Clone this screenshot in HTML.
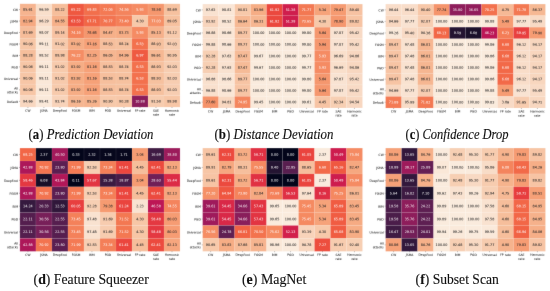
<!DOCTYPE html>
<html lang="en"><head><meta charset="utf-8"><title>Detector heatmaps</title>
<style>
html,body{margin:0;padding:0;background:#fff;}
body{width:550px;height:291px;overflow:hidden;}
svg{display:block}
.hm text{font-family:"DejaVu Sans","Liberation Sans",sans-serif;}
.k{fill:#262626;stroke:#262626;stroke-width:0.05px}.w{fill:#fff;stroke:#fff;stroke-width:0}

.cap{font-family:"Liberation Serif","DejaVu Serif",serif;font-size:13.8px;fill:#111;stroke:#111;stroke-width:.12px;}
</style></head><body>
<svg width="550" height="291" viewBox="0 0 550 291">
<rect width="550" height="291" fill="#ffffff"/>
<defs><filter id="bl" x="-5%" y="-5%" width="110%" height="115%" color-interpolation-filters="sRGB"><feConvolveMatrix order="3" kernelMatrix="0.0052 0.0619 0.0052 0.0619 0.7314 0.0619 0.0052 0.0619 0.0052" edgeMode="duplicate" preserveAlpha="false"/></filter></defs>
<g class="hm" id="pa" filter="url(#bl)">
<rect x="19.90" y="3.80" width="16.06" height="11.53" fill="#f6b48f"/>
<rect x="35.91" y="3.80" width="16.06" height="11.53" fill="#f9dfcb"/>
<rect x="51.92" y="3.80" width="16.06" height="11.53" fill="#f6be9b"/>
<rect x="67.93" y="3.80" width="16.06" height="11.53" fill="#ef5840"/>
<rect x="83.94" y="3.80" width="16.06" height="11.53" fill="#f26f4c"/>
<rect x="99.95" y="3.80" width="16.06" height="11.53" fill="#f47a54"/>
<rect x="115.96" y="3.80" width="16.06" height="11.53" fill="#f4845d"/>
<rect x="131.97" y="3.80" width="16.06" height="11.53" fill="#f58b63"/>
<rect x="147.98" y="3.80" width="16.06" height="11.53" fill="#f5976e"/>
<rect x="163.99" y="3.80" width="16.06" height="11.53" fill="#f6c19f"/>
<rect x="19.90" y="15.28" width="16.06" height="11.53" fill="#f6a981"/>
<rect x="35.91" y="15.28" width="16.06" height="11.53" fill="#f9ddc9"/>
<rect x="51.92" y="15.28" width="16.06" height="11.53" fill="#f6b089"/>
<rect x="67.93" y="15.28" width="16.06" height="11.53" fill="#ed503e"/>
<rect x="83.94" y="15.28" width="16.06" height="11.53" fill="#f16646"/>
<rect x="99.95" y="15.28" width="16.06" height="11.53" fill="#f37450"/>
<rect x="115.96" y="15.28" width="16.06" height="11.53" fill="#f47f58"/>
<rect x="131.97" y="15.28" width="16.06" height="11.53" fill="#f7c9aa"/>
<rect x="147.98" y="15.28" width="16.06" height="11.53" fill="#f59067"/>
<rect x="163.99" y="15.28" width="16.06" height="11.53" fill="#f6c19f"/>
<rect x="19.90" y="26.76" width="16.06" height="11.53" fill="#f6bc99"/>
<rect x="35.91" y="26.76" width="16.06" height="11.53" fill="#f9e5d4"/>
<rect x="51.92" y="26.76" width="16.06" height="11.53" fill="#f7c2a2"/>
<rect x="67.93" y="26.76" width="16.06" height="11.53" fill="#f4835b"/>
<rect x="83.94" y="26.76" width="16.06" height="11.53" fill="#f5976e"/>
<rect x="99.95" y="26.76" width="16.06" height="11.53" fill="#f6b089"/>
<rect x="115.96" y="26.76" width="16.06" height="11.53" fill="#f6ad85"/>
<rect x="131.97" y="26.76" width="16.06" height="11.53" fill="#f58b63"/>
<rect x="147.98" y="26.76" width="16.06" height="11.53" fill="#f6b18b"/>
<rect x="163.99" y="26.76" width="16.06" height="11.53" fill="#f7caac"/>
<rect x="19.90" y="38.23" width="16.06" height="11.53" fill="#f7c6a6"/>
<rect x="35.91" y="38.23" width="16.06" height="11.53" fill="#fae8d8"/>
<rect x="51.92" y="38.23" width="16.06" height="11.53" fill="#f7caac"/>
<rect x="67.93" y="38.23" width="16.06" height="11.53" fill="#f6ad85"/>
<rect x="83.94" y="38.23" width="16.06" height="11.53" fill="#f6a178"/>
<rect x="99.95" y="38.23" width="16.06" height="11.53" fill="#f6bf9d"/>
<rect x="115.96" y="38.23" width="16.06" height="11.53" fill="#f6c19f"/>
<rect x="131.97" y="38.23" width="16.06" height="11.53" fill="#f3714d"/>
<rect x="147.98" y="38.23" width="16.06" height="11.53" fill="#f6c19f"/>
<rect x="163.99" y="38.23" width="16.06" height="11.53" fill="#f7cdb1"/>
<rect x="19.90" y="49.71" width="16.06" height="11.53" fill="#f6be9b"/>
<rect x="35.91" y="49.71" width="16.06" height="11.53" fill="#fae6d6"/>
<rect x="51.92" y="49.71" width="16.06" height="11.53" fill="#f7c6a6"/>
<rect x="67.93" y="49.71" width="16.06" height="11.53" fill="#f58d64"/>
<rect x="83.94" y="49.71" width="16.06" height="11.53" fill="#f6a67e"/>
<rect x="99.95" y="49.71" width="16.06" height="11.53" fill="#f6b691"/>
<rect x="115.96" y="49.71" width="16.06" height="11.53" fill="#f6b18b"/>
<rect x="131.97" y="49.71" width="16.06" height="11.53" fill="#ef5a41"/>
<rect x="147.98" y="49.71" width="16.06" height="11.53" fill="#f6b893"/>
<rect x="163.99" y="49.71" width="16.06" height="11.53" fill="#f7c9aa"/>
<rect x="19.90" y="61.19" width="16.06" height="11.53" fill="#f7c6a6"/>
<rect x="35.91" y="61.19" width="16.06" height="11.53" fill="#fae8d8"/>
<rect x="51.92" y="61.19" width="16.06" height="11.53" fill="#f7caac"/>
<rect x="67.93" y="61.19" width="16.06" height="11.53" fill="#f6ad85"/>
<rect x="83.94" y="61.19" width="16.06" height="11.53" fill="#f6a178"/>
<rect x="99.95" y="61.19" width="16.06" height="11.53" fill="#f6bf9d"/>
<rect x="115.96" y="61.19" width="16.06" height="11.53" fill="#f6c19f"/>
<rect x="131.97" y="61.19" width="16.06" height="11.53" fill="#f3714d"/>
<rect x="147.98" y="61.19" width="16.06" height="11.53" fill="#f6c19f"/>
<rect x="163.99" y="61.19" width="16.06" height="11.53" fill="#f7cdb1"/>
<rect x="19.90" y="72.67" width="16.06" height="11.53" fill="#f7c6a6"/>
<rect x="35.91" y="72.67" width="16.06" height="11.53" fill="#fae8d8"/>
<rect x="51.92" y="72.67" width="16.06" height="11.53" fill="#f7caac"/>
<rect x="67.93" y="72.67" width="16.06" height="11.53" fill="#f6ad85"/>
<rect x="83.94" y="72.67" width="16.06" height="11.53" fill="#f6a178"/>
<rect x="99.95" y="72.67" width="16.06" height="11.53" fill="#f6bf9d"/>
<rect x="115.96" y="72.67" width="16.06" height="11.53" fill="#f6c19f"/>
<rect x="131.97" y="72.67" width="16.06" height="11.53" fill="#f3714d"/>
<rect x="147.98" y="72.67" width="16.06" height="11.53" fill="#f6c19f"/>
<rect x="163.99" y="72.67" width="16.06" height="11.53" fill="#f7cdb1"/>
<rect x="19.90" y="84.14" width="16.06" height="11.53" fill="#f7c6a6"/>
<rect x="35.91" y="84.14" width="16.06" height="11.53" fill="#fae8d8"/>
<rect x="51.92" y="84.14" width="16.06" height="11.53" fill="#f7caac"/>
<rect x="67.93" y="84.14" width="16.06" height="11.53" fill="#f6ad85"/>
<rect x="83.94" y="84.14" width="16.06" height="11.53" fill="#f6a178"/>
<rect x="99.95" y="84.14" width="16.06" height="11.53" fill="#f6bf9d"/>
<rect x="115.96" y="84.14" width="16.06" height="11.53" fill="#f6c19f"/>
<rect x="131.97" y="84.14" width="16.06" height="11.53" fill="#f3714d"/>
<rect x="147.98" y="84.14" width="16.06" height="11.53" fill="#f6c19f"/>
<rect x="163.99" y="84.14" width="16.06" height="11.53" fill="#f7cdb1"/>
<rect x="19.90" y="95.62" width="16.06" height="11.53" fill="#f8d7c0"/>
<rect x="35.91" y="95.62" width="16.06" height="11.53" fill="#fae9da"/>
<rect x="51.92" y="95.62" width="16.06" height="11.53" fill="#f8d3ba"/>
<rect x="67.93" y="95.62" width="16.06" height="11.53" fill="#f6b691"/>
<rect x="83.94" y="95.62" width="16.06" height="11.53" fill="#f6b38d"/>
<rect x="99.95" y="95.62" width="16.06" height="11.53" fill="#f7c9aa"/>
<rect x="115.96" y="95.62" width="16.06" height="11.53" fill="#f7c7a8"/>
<rect x="131.97" y="95.62" width="16.06" height="11.53" fill="#8b1d5b"/>
<rect x="147.98" y="95.62" width="16.06" height="11.53" fill="#f7ccaf"/>
<rect x="163.99" y="95.62" width="16.06" height="11.53" fill="#f7c6a6"/>
<path d="M19.90 3.80V107.10M35.91 3.80V107.10M51.92 3.80V107.10M67.93 3.80V107.10M83.94 3.80V107.10M99.95 3.80V107.10M115.96 3.80V107.10M131.97 3.80V107.10M147.98 3.80V107.10M163.99 3.80V107.10M180.00 3.80V107.10M19.90 3.80H180.00M19.90 15.28H180.00M19.90 26.76H180.00M19.90 38.23H180.00M19.90 49.71H180.00M19.90 61.19H180.00M19.90 72.67H180.00M19.90 84.14H180.00M19.90 95.62H180.00M19.90 107.10H180.00" stroke="#ffffff" stroke-opacity="0.22" stroke-width="0.4" fill="none"/>
<g class="an" font-size="3.38" text-anchor="middle"><text transform="rotate(.3 27.90 10.71)" x="27.90" y="10.71" class="k">85.61</text><text transform="rotate(.3 43.91 10.71)" x="43.91" y="10.71" class="k">96.59</text><text transform="rotate(.3 59.92 10.71)" x="59.92" y="10.71" class="k">88.22</text><text transform="rotate(.3 75.93 10.71)" x="75.93" y="10.71" class="w">65.22</text><text transform="rotate(.3 91.94 10.71)" x="91.94" y="10.71" class="w">69.83</text><text transform="rotate(.3 107.95 10.71)" x="107.95" y="10.71" class="w">72.06</text><text transform="rotate(.3 123.96 10.71)" x="123.96" y="10.71" class="w">74.56</text><text transform="rotate(.3 139.97 10.71)" x="139.97" y="10.71" class="w">5.93</text><text transform="rotate(.3 155.98 10.71)" x="155.98" y="10.71" class="k">78.58</text><text transform="rotate(.3 171.99 10.71)" x="171.99" y="10.71" class="k">88.69</text><text transform="rotate(.3 27.90 22.18)" x="27.90" y="22.18" class="k">82.94</text><text transform="rotate(.3 43.91 22.18)" x="43.91" y="22.18" class="k">96.29</text><text transform="rotate(.3 59.92 22.18)" x="59.92" y="22.18" class="k">84.55</text><text transform="rotate(.3 75.93 22.18)" x="75.93" y="22.18" class="w">63.53</text><text transform="rotate(.3 91.94 22.18)" x="91.94" y="22.18" class="w">67.71</text><text transform="rotate(.3 107.95 22.18)" x="107.95" y="22.18" class="w">70.77</text><text transform="rotate(.3 123.96 22.18)" x="123.96" y="22.18" class="w">73.40</text><text transform="rotate(.3 139.97 22.18)" x="139.97" y="22.18" class="k">4.30</text><text transform="rotate(.3 155.98 22.18)" x="155.98" y="22.18" class="w">77.03</text><text transform="rotate(.3 171.99 22.18)" x="171.99" y="22.18" class="k">89.05</text><text transform="rotate(.3 27.90 33.66)" x="27.90" y="33.66" class="k">87.69</text><text transform="rotate(.3 43.91 33.66)" x="43.91" y="33.66" class="k">98.07</text><text transform="rotate(.3 59.92 33.66)" x="59.92" y="33.66" class="k">89.14</text><text transform="rotate(.3 75.93 33.66)" x="75.93" y="33.66" class="w">74.16</text><text transform="rotate(.3 91.94 33.66)" x="91.94" y="33.66" class="k">78.68</text><text transform="rotate(.3 107.95 33.66)" x="107.95" y="33.66" class="k">84.47</text><text transform="rotate(.3 123.96 33.66)" x="123.96" y="33.66" class="k">83.73</text><text transform="rotate(.3 139.97 33.66)" x="139.97" y="33.66" class="w">5.93</text><text transform="rotate(.3 155.98 33.66)" x="155.98" y="33.66" class="k">85.13</text><text transform="rotate(.3 171.99 33.66)" x="171.99" y="33.66" class="k">91.12</text><text transform="rotate(.3 27.90 45.14)" x="27.90" y="45.14" class="k">90.06</text><text transform="rotate(.3 43.91 45.14)" x="43.91" y="45.14" class="k">99.11</text><text transform="rotate(.3 59.92 45.14)" x="59.92" y="45.14" class="k">91.02</text><text transform="rotate(.3 75.93 45.14)" x="75.93" y="45.14" class="k">83.92</text><text transform="rotate(.3 91.94 45.14)" x="91.94" y="45.14" class="k">81.16</text><text transform="rotate(.3 107.95 45.14)" x="107.95" y="45.14" class="k">88.53</text><text transform="rotate(.3 123.96 45.14)" x="123.96" y="45.14" class="k">88.74</text><text transform="rotate(.3 139.97 45.14)" x="139.97" y="45.14" class="w">6.53</text><text transform="rotate(.3 155.98 45.14)" x="155.98" y="45.14" class="k">88.93</text><text transform="rotate(.3 171.99 45.14)" x="171.99" y="45.14" class="k">92.03</text><text transform="rotate(.3 27.90 56.62)" x="27.90" y="56.62" class="k">88.28</text><text transform="rotate(.3 43.91 56.62)" x="43.91" y="56.62" class="k">98.52</text><text transform="rotate(.3 59.92 56.62)" x="59.92" y="56.62" class="k">89.98</text><text transform="rotate(.3 75.93 56.62)" x="75.93" y="56.62" class="w">76.22</text><text transform="rotate(.3 91.94 56.62)" x="91.94" y="56.62" class="k">82.25</text><text transform="rotate(.3 107.95 56.62)" x="107.95" y="56.62" class="k">86.05</text><text transform="rotate(.3 123.96 56.62)" x="123.96" y="56.62" class="k">84.96</text><text transform="rotate(.3 139.97 56.62)" x="139.97" y="56.62" class="w">6.97</text><text transform="rotate(.3 155.98 56.62)" x="155.98" y="56.62" class="k">86.61</text><text transform="rotate(.3 171.99 56.62)" x="171.99" y="56.62" class="k">90.95</text><text transform="rotate(.3 27.90 68.09)" x="27.90" y="68.09" class="k">90.06</text><text transform="rotate(.3 43.91 68.09)" x="43.91" y="68.09" class="k">99.11</text><text transform="rotate(.3 59.92 68.09)" x="59.92" y="68.09" class="k">91.02</text><text transform="rotate(.3 75.93 68.09)" x="75.93" y="68.09" class="k">83.92</text><text transform="rotate(.3 91.94 68.09)" x="91.94" y="68.09" class="k">81.16</text><text transform="rotate(.3 107.95 68.09)" x="107.95" y="68.09" class="k">88.53</text><text transform="rotate(.3 123.96 68.09)" x="123.96" y="68.09" class="k">88.74</text><text transform="rotate(.3 139.97 68.09)" x="139.97" y="68.09" class="w">6.53</text><text transform="rotate(.3 155.98 68.09)" x="155.98" y="68.09" class="k">88.93</text><text transform="rotate(.3 171.99 68.09)" x="171.99" y="68.09" class="k">92.03</text><text transform="rotate(.3 27.90 79.57)" x="27.90" y="79.57" class="k">90.06</text><text transform="rotate(.3 43.91 79.57)" x="43.91" y="79.57" class="k">99.11</text><text transform="rotate(.3 59.92 79.57)" x="59.92" y="79.57" class="k">91.02</text><text transform="rotate(.3 75.93 79.57)" x="75.93" y="79.57" class="k">83.92</text><text transform="rotate(.3 91.94 79.57)" x="91.94" y="79.57" class="k">81.16</text><text transform="rotate(.3 107.95 79.57)" x="107.95" y="79.57" class="k">88.53</text><text transform="rotate(.3 123.96 79.57)" x="123.96" y="79.57" class="k">88.74</text><text transform="rotate(.3 139.97 79.57)" x="139.97" y="79.57" class="w">6.53</text><text transform="rotate(.3 155.98 79.57)" x="155.98" y="79.57" class="k">88.93</text><text transform="rotate(.3 171.99 79.57)" x="171.99" y="79.57" class="k">92.03</text><text transform="rotate(.3 27.90 91.05)" x="27.90" y="91.05" class="k">90.06</text><text transform="rotate(.3 43.91 91.05)" x="43.91" y="91.05" class="k">99.11</text><text transform="rotate(.3 59.92 91.05)" x="59.92" y="91.05" class="k">91.02</text><text transform="rotate(.3 75.93 91.05)" x="75.93" y="91.05" class="k">83.92</text><text transform="rotate(.3 91.94 91.05)" x="91.94" y="91.05" class="k">81.16</text><text transform="rotate(.3 107.95 91.05)" x="107.95" y="91.05" class="k">88.53</text><text transform="rotate(.3 123.96 91.05)" x="123.96" y="91.05" class="k">88.74</text><text transform="rotate(.3 139.97 91.05)" x="139.97" y="91.05" class="w">6.53</text><text transform="rotate(.3 155.98 91.05)" x="155.98" y="91.05" class="k">88.93</text><text transform="rotate(.3 171.99 91.05)" x="171.99" y="91.05" class="k">92.03</text><text transform="rotate(.3 27.90 102.53)" x="27.90" y="102.53" class="k">94.66</text><text transform="rotate(.3 43.91 102.53)" x="43.91" y="102.53" class="k">99.41</text><text transform="rotate(.3 59.92 102.53)" x="59.92" y="102.53" class="k">93.74</text><text transform="rotate(.3 75.93 102.53)" x="75.93" y="102.53" class="k">86.16</text><text transform="rotate(.3 91.94 102.53)" x="91.94" y="102.53" class="k">85.26</text><text transform="rotate(.3 107.95 102.53)" x="107.95" y="102.53" class="k">90.90</text><text transform="rotate(.3 123.96 102.53)" x="123.96" y="102.53" class="k">90.38</text><text transform="rotate(.3 139.97 102.53)" x="139.97" y="102.53" class="w">10.88</text><text transform="rotate(.3 155.98 102.53)" x="155.98" y="102.53" class="k">91.50</text><text transform="rotate(.3 171.99 102.53)" x="171.99" y="102.53" class="k">89.98</text></g>
<path d="M27.90 107.10v0.9M43.91 107.10v0.9M59.92 107.10v0.9M75.94 107.10v0.9M91.94 107.10v0.9M107.95 107.10v0.9M123.96 107.10v0.9M139.97 107.10v0.9M155.98 107.10v0.9M171.99 107.10v0.9M19.90 9.54h-0.9M19.90 21.02h-0.9M19.90 32.49h-0.9M19.90 43.97h-0.9M19.90 55.45h-0.9M19.90 66.93h-0.9M19.90 78.41h-0.9M19.90 89.88h-0.9M19.90 101.36h-0.9" stroke="#262626" stroke-width="0.35" fill="none"/>
<g class="tk k" font-size="3.02" style="stroke-width:.05px"><text transform="rotate(.3 27.90 111.70)" x="27.90" y="111.70" text-anchor="middle">CW</text><text transform="rotate(.3 43.91 111.70)" x="43.91" y="111.70" text-anchor="middle">JSMA</text><text transform="rotate(.3 59.92 111.70)" x="59.92" y="111.70" text-anchor="middle">DeepFool</text><text transform="rotate(.3 75.94 111.70)" x="75.94" y="111.70" text-anchor="middle">FGSM</text><text transform="rotate(.3 91.94 111.70)" x="91.94" y="111.70" text-anchor="middle">BIM</text><text transform="rotate(.3 107.95 111.70)" x="107.95" y="111.70" text-anchor="middle">PGD</text><text transform="rotate(.3 123.96 111.70)" x="123.96" y="111.70" text-anchor="middle">Universal</text><text transform="rotate(.3 139.97 111.70)" x="139.97" y="111.70" text-anchor="middle">FP rate</text><text transform="rotate(.3 155.98 111.70)" x="155.98" y="111.70" text-anchor="middle">SAE</text><text transform="rotate(.3 155.98 115.77)" x="155.98" y="115.77" text-anchor="middle">rate</text><text transform="rotate(.3 171.99 111.70)" x="171.99" y="111.70" text-anchor="middle">Harmonic</text><text transform="rotate(.3 171.99 115.77)" x="171.99" y="115.77" text-anchor="middle">rate</text><text transform="rotate(.3 18.00 11.13)" x="18.00" y="11.13" text-anchor="end">CW</text><text transform="rotate(.3 18.00 22.60)" x="18.00" y="22.60" text-anchor="end">JSMA</text><text transform="rotate(.3 18.00 34.08)" x="18.00" y="34.08" text-anchor="end">DeepFool</text><text transform="rotate(.3 18.00 45.56)" x="18.00" y="45.56" text-anchor="end">FGSM</text><text transform="rotate(.3 18.00 57.04)" x="18.00" y="57.04" text-anchor="end">BIM</text><text transform="rotate(.3 18.00 68.51)" x="18.00" y="68.51" text-anchor="end">PGD</text><text transform="rotate(.3 18.00 79.99)" x="18.00" y="79.99" text-anchor="end">Universal</text><text transform="rotate(.3 18.00 89.54)" x="18.00" y="89.54" text-anchor="end">All</text><text transform="rotate(.3 18.00 93.40)" x="18.00" y="93.40" text-anchor="end">attacks</text><text transform="rotate(.3 18.00 102.95)" x="18.00" y="102.95" text-anchor="end">Default</text></g>
</g>
<text class="cap" x="91.0" y="139.3" text-anchor="middle" textLength="124.9" lengthAdjust="spacingAndGlyphs">(<tspan font-weight="bold">a</tspan>) <tspan font-style="italic">Prediction Deviation</tspan></text>
<g class="hm" id="pb" filter="url(#bl)">
<rect x="202.65" y="4.10" width="16.03" height="11.58" fill="#f9e2d0"/>
<rect x="218.63" y="4.10" width="16.03" height="11.58" fill="#fae6d6"/>
<rect x="234.61" y="4.10" width="16.03" height="11.58" fill="#f7c9aa"/>
<rect x="250.59" y="4.10" width="16.03" height="11.58" fill="#f6ad85"/>
<rect x="266.57" y="4.10" width="16.03" height="11.58" fill="#eb483e"/>
<rect x="282.55" y="4.10" width="16.03" height="11.58" fill="#cf1e4d"/>
<rect x="298.53" y="4.10" width="16.03" height="11.58" fill="#f37852"/>
<rect x="314.51" y="4.10" width="16.03" height="11.58" fill="#f6a37a"/>
<rect x="330.49" y="4.10" width="16.03" height="11.58" fill="#f69b71"/>
<rect x="346.47" y="4.10" width="16.03" height="11.58" fill="#f7c2a2"/>
<rect x="202.65" y="15.63" width="16.03" height="11.58" fill="#f8d4bc"/>
<rect x="218.63" y="15.63" width="16.03" height="11.58" fill="#fae6d6"/>
<rect x="234.61" y="15.63" width="16.03" height="11.58" fill="#f6b893"/>
<rect x="250.59" y="15.63" width="16.03" height="11.58" fill="#f6b691"/>
<rect x="266.57" y="15.63" width="16.03" height="11.58" fill="#eb483e"/>
<rect x="282.55" y="15.63" width="16.03" height="11.58" fill="#cf1e4d"/>
<rect x="298.53" y="15.63" width="16.03" height="11.58" fill="#f4815a"/>
<rect x="314.51" y="15.63" width="16.03" height="11.58" fill="#f7c9aa"/>
<rect x="330.49" y="15.63" width="16.03" height="11.58" fill="#f5976e"/>
<rect x="346.47" y="15.63" width="16.03" height="11.58" fill="#f7c4a4"/>
<rect x="202.65" y="27.17" width="16.03" height="11.58" fill="#f9e0cd"/>
<rect x="218.63" y="27.17" width="16.03" height="11.58" fill="#fae6d6"/>
<rect x="234.61" y="27.17" width="16.03" height="11.58" fill="#f7c4a4"/>
<rect x="250.59" y="27.17" width="16.03" height="11.58" fill="#faebdd"/>
<rect x="266.57" y="27.17" width="16.03" height="11.58" fill="#faebdd"/>
<rect x="282.55" y="27.17" width="16.03" height="11.58" fill="#faebdd"/>
<rect x="298.53" y="27.17" width="16.03" height="11.58" fill="#faebdd"/>
<rect x="314.51" y="27.17" width="16.03" height="11.58" fill="#f5976e"/>
<rect x="330.49" y="27.17" width="16.03" height="11.58" fill="#f9e3d2"/>
<rect x="346.47" y="27.17" width="16.03" height="11.58" fill="#f8dac5"/>
<rect x="202.65" y="38.70" width="16.03" height="11.58" fill="#f9e0cd"/>
<rect x="218.63" y="38.70" width="16.03" height="11.58" fill="#fae6d6"/>
<rect x="234.61" y="38.70" width="16.03" height="11.58" fill="#f7c4a4"/>
<rect x="250.59" y="38.70" width="16.03" height="11.58" fill="#faebdd"/>
<rect x="266.57" y="38.70" width="16.03" height="11.58" fill="#faebdd"/>
<rect x="282.55" y="38.70" width="16.03" height="11.58" fill="#faebdd"/>
<rect x="298.53" y="38.70" width="16.03" height="11.58" fill="#faebdd"/>
<rect x="314.51" y="38.70" width="16.03" height="11.58" fill="#f5976e"/>
<rect x="330.49" y="38.70" width="16.03" height="11.58" fill="#f9e3d2"/>
<rect x="346.47" y="38.70" width="16.03" height="11.58" fill="#f8dac5"/>
<rect x="202.65" y="50.23" width="16.03" height="11.58" fill="#f7cfb3"/>
<rect x="218.63" y="50.23" width="16.03" height="11.58" fill="#f9e2d0"/>
<rect x="234.61" y="50.23" width="16.03" height="11.58" fill="#f6bb97"/>
<rect x="250.59" y="50.23" width="16.03" height="11.58" fill="#faebdd"/>
<rect x="266.57" y="50.23" width="16.03" height="11.58" fill="#faebdd"/>
<rect x="282.55" y="50.23" width="16.03" height="11.58" fill="#faebdd"/>
<rect x="298.53" y="50.23" width="16.03" height="11.58" fill="#faebdd"/>
<rect x="314.51" y="50.23" width="16.03" height="11.58" fill="#f58b63"/>
<rect x="330.49" y="50.23" width="16.03" height="11.58" fill="#f9dfcb"/>
<rect x="346.47" y="50.23" width="16.03" height="11.58" fill="#f8d7c0"/>
<rect x="202.65" y="61.77" width="16.03" height="11.58" fill="#f7cfb3"/>
<rect x="218.63" y="61.77" width="16.03" height="11.58" fill="#f9e2d0"/>
<rect x="234.61" y="61.77" width="16.03" height="11.58" fill="#f6bb97"/>
<rect x="250.59" y="61.77" width="16.03" height="11.58" fill="#faebdd"/>
<rect x="266.57" y="61.77" width="16.03" height="11.58" fill="#faebdd"/>
<rect x="282.55" y="61.77" width="16.03" height="11.58" fill="#faebdd"/>
<rect x="298.53" y="61.77" width="16.03" height="11.58" fill="#faebdd"/>
<rect x="314.51" y="61.77" width="16.03" height="11.58" fill="#f58b63"/>
<rect x="330.49" y="61.77" width="16.03" height="11.58" fill="#f9dfcb"/>
<rect x="346.47" y="61.77" width="16.03" height="11.58" fill="#f8d7c0"/>
<rect x="202.65" y="73.30" width="16.03" height="11.58" fill="#f9e0cd"/>
<rect x="218.63" y="73.30" width="16.03" height="11.58" fill="#fae6d6"/>
<rect x="234.61" y="73.30" width="16.03" height="11.58" fill="#f7c4a4"/>
<rect x="250.59" y="73.30" width="16.03" height="11.58" fill="#faebdd"/>
<rect x="266.57" y="73.30" width="16.03" height="11.58" fill="#faebdd"/>
<rect x="282.55" y="73.30" width="16.03" height="11.58" fill="#faebdd"/>
<rect x="298.53" y="73.30" width="16.03" height="11.58" fill="#faebdd"/>
<rect x="314.51" y="73.30" width="16.03" height="11.58" fill="#f5976e"/>
<rect x="330.49" y="73.30" width="16.03" height="11.58" fill="#f9e3d2"/>
<rect x="346.47" y="73.30" width="16.03" height="11.58" fill="#f8dac5"/>
<rect x="202.65" y="84.83" width="16.03" height="11.58" fill="#f9e0cd"/>
<rect x="218.63" y="84.83" width="16.03" height="11.58" fill="#fae6d6"/>
<rect x="234.61" y="84.83" width="16.03" height="11.58" fill="#f7c4a4"/>
<rect x="250.59" y="84.83" width="16.03" height="11.58" fill="#faebdd"/>
<rect x="266.57" y="84.83" width="16.03" height="11.58" fill="#faebdd"/>
<rect x="282.55" y="84.83" width="16.03" height="11.58" fill="#faebdd"/>
<rect x="298.53" y="84.83" width="16.03" height="11.58" fill="#faebdd"/>
<rect x="314.51" y="84.83" width="16.03" height="11.58" fill="#f5976e"/>
<rect x="330.49" y="84.83" width="16.03" height="11.58" fill="#f9e3d2"/>
<rect x="346.47" y="84.83" width="16.03" height="11.58" fill="#f8dac5"/>
<rect x="202.65" y="96.37" width="16.03" height="11.58" fill="#f59269"/>
<rect x="218.63" y="96.37" width="16.03" height="11.58" fill="#f8d7c0"/>
<rect x="234.61" y="96.37" width="16.03" height="11.58" fill="#f4865e"/>
<rect x="250.59" y="96.37" width="16.03" height="11.58" fill="#fae9da"/>
<rect x="266.57" y="96.37" width="16.03" height="11.58" fill="#faebdd"/>
<rect x="282.55" y="96.37" width="16.03" height="11.58" fill="#faebdd"/>
<rect x="298.53" y="96.37" width="16.03" height="11.58" fill="#faebdd"/>
<rect x="314.51" y="96.37" width="16.03" height="11.58" fill="#f7c4a4"/>
<rect x="330.49" y="96.37" width="16.03" height="11.58" fill="#f7cfb3"/>
<rect x="346.47" y="96.37" width="16.03" height="11.58" fill="#f8d7c0"/>
<path d="M202.65 4.10V107.90M218.63 4.10V107.90M234.61 4.10V107.90M250.59 4.10V107.90M266.57 4.10V107.90M282.55 4.10V107.90M298.53 4.10V107.90M314.51 4.10V107.90M330.49 4.10V107.90M346.47 4.10V107.90M362.45 4.10V107.90M202.65 4.10H362.45M202.65 15.63H362.45M202.65 27.17H362.45M202.65 38.70H362.45M202.65 50.23H362.45M202.65 61.77H362.45M202.65 73.30H362.45M202.65 84.83H362.45M202.65 96.37H362.45M202.65 107.90H362.45" stroke="#ffffff" stroke-opacity="0.22" stroke-width="0.4" fill="none"/>
<g class="an" font-size="3.38" text-anchor="middle"><text transform="rotate(.3 210.64 11.03)" x="210.64" y="11.03" class="k">97.63</text><text transform="rotate(.3 226.62 11.03)" x="226.62" y="11.03" class="k">98.81</text><text transform="rotate(.3 242.60 11.03)" x="242.60" y="11.03" class="k">90.81</text><text transform="rotate(.3 258.58 11.03)" x="258.58" y="11.03" class="k">83.96</text><text transform="rotate(.3 274.56 11.03)" x="274.56" y="11.03" class="w">61.92</text><text transform="rotate(.3 290.54 11.03)" x="290.54" y="11.03" class="w">51.38</text><text transform="rotate(.3 306.52 11.03)" x="306.52" y="11.03" class="w">71.77</text><text transform="rotate(.3 322.50 11.03)" x="322.50" y="11.03" class="k">5.34</text><text transform="rotate(.3 338.48 11.03)" x="338.48" y="11.03" class="k">79.47</text><text transform="rotate(.3 354.46 11.03)" x="354.46" y="11.03" class="k">89.40</text><text transform="rotate(.3 210.64 22.57)" x="210.64" y="22.57" class="k">93.92</text><text transform="rotate(.3 226.62 22.57)" x="226.62" y="22.57" class="k">98.52</text><text transform="rotate(.3 242.60 22.57)" x="242.60" y="22.57" class="k">86.64</text><text transform="rotate(.3 258.58 22.57)" x="258.58" y="22.57" class="k">86.31</text><text transform="rotate(.3 274.56 22.57)" x="274.56" y="22.57" class="w">61.92</text><text transform="rotate(.3 290.54 22.57)" x="290.54" y="22.57" class="w">51.38</text><text transform="rotate(.3 306.52 22.57)" x="306.52" y="22.57" class="w">73.65</text><text transform="rotate(.3 322.50 22.57)" x="322.50" y="22.57" class="k">4.30</text><text transform="rotate(.3 338.48 22.57)" x="338.48" y="22.57" class="k">78.90</text><text transform="rotate(.3 354.46 22.57)" x="354.46" y="22.57" class="k">89.82</text><text transform="rotate(.3 210.64 34.10)" x="210.64" y="34.10" class="k">96.88</text><text transform="rotate(.3 226.62 34.10)" x="226.62" y="34.10" class="k">98.66</text><text transform="rotate(.3 242.60 34.10)" x="242.60" y="34.10" class="k">89.77</text><text transform="rotate(.3 258.58 34.10)" x="258.58" y="34.10" class="k">100.00</text><text transform="rotate(.3 274.56 34.10)" x="274.56" y="34.10" class="k">100.00</text><text transform="rotate(.3 290.54 34.10)" x="290.54" y="34.10" class="k">100.00</text><text transform="rotate(.3 306.52 34.10)" x="306.52" y="34.10" class="k">99.80</text><text transform="rotate(.3 322.50 34.10)" x="322.50" y="34.10" class="k">5.64</text><text transform="rotate(.3 338.48 34.10)" x="338.48" y="34.10" class="k">97.87</text><text transform="rotate(.3 354.46 34.10)" x="354.46" y="34.10" class="k">95.42</text><text transform="rotate(.3 210.64 45.63)" x="210.64" y="45.63" class="k">96.88</text><text transform="rotate(.3 226.62 45.63)" x="226.62" y="45.63" class="k">98.66</text><text transform="rotate(.3 242.60 45.63)" x="242.60" y="45.63" class="k">89.77</text><text transform="rotate(.3 258.58 45.63)" x="258.58" y="45.63" class="k">100.00</text><text transform="rotate(.3 274.56 45.63)" x="274.56" y="45.63" class="k">100.00</text><text transform="rotate(.3 290.54 45.63)" x="290.54" y="45.63" class="k">100.00</text><text transform="rotate(.3 306.52 45.63)" x="306.52" y="45.63" class="k">99.80</text><text transform="rotate(.3 322.50 45.63)" x="322.50" y="45.63" class="k">5.64</text><text transform="rotate(.3 338.48 45.63)" x="338.48" y="45.63" class="k">97.87</text><text transform="rotate(.3 354.46 45.63)" x="354.46" y="45.63" class="k">95.42</text><text transform="rotate(.3 210.64 57.17)" x="210.64" y="57.17" class="k">92.28</text><text transform="rotate(.3 226.62 57.17)" x="226.62" y="57.17" class="k">97.63</text><text transform="rotate(.3 242.60 57.17)" x="242.60" y="57.17" class="k">87.47</text><text transform="rotate(.3 258.58 57.17)" x="258.58" y="57.17" class="k">99.67</text><text transform="rotate(.3 274.56 57.17)" x="274.56" y="57.17" class="k">100.00</text><text transform="rotate(.3 290.54 57.17)" x="290.54" y="57.17" class="k">100.00</text><text transform="rotate(.3 306.52 57.17)" x="306.52" y="57.17" class="k">99.77</text><text transform="rotate(.3 322.50 57.17)" x="322.50" y="57.17" class="w">5.93</text><text transform="rotate(.3 338.48 57.17)" x="338.48" y="57.17" class="k">96.69</text><text transform="rotate(.3 354.46 57.17)" x="354.46" y="57.17" class="k">94.86</text><text transform="rotate(.3 210.64 68.70)" x="210.64" y="68.70" class="k">92.28</text><text transform="rotate(.3 226.62 68.70)" x="226.62" y="68.70" class="k">97.63</text><text transform="rotate(.3 242.60 68.70)" x="242.60" y="68.70" class="k">87.47</text><text transform="rotate(.3 258.58 68.70)" x="258.58" y="68.70" class="k">99.67</text><text transform="rotate(.3 274.56 68.70)" x="274.56" y="68.70" class="k">100.00</text><text transform="rotate(.3 290.54 68.70)" x="290.54" y="68.70" class="k">100.00</text><text transform="rotate(.3 306.52 68.70)" x="306.52" y="68.70" class="k">99.77</text><text transform="rotate(.3 322.50 68.70)" x="322.50" y="68.70" class="w">5.93</text><text transform="rotate(.3 338.48 68.70)" x="338.48" y="68.70" class="k">96.69</text><text transform="rotate(.3 354.46 68.70)" x="354.46" y="68.70" class="k">94.86</text><text transform="rotate(.3 210.64 80.23)" x="210.64" y="80.23" class="k">96.88</text><text transform="rotate(.3 226.62 80.23)" x="226.62" y="80.23" class="k">98.66</text><text transform="rotate(.3 242.60 80.23)" x="242.60" y="80.23" class="k">89.77</text><text transform="rotate(.3 258.58 80.23)" x="258.58" y="80.23" class="k">100.00</text><text transform="rotate(.3 274.56 80.23)" x="274.56" y="80.23" class="k">100.00</text><text transform="rotate(.3 290.54 80.23)" x="290.54" y="80.23" class="k">100.00</text><text transform="rotate(.3 306.52 80.23)" x="306.52" y="80.23" class="k">99.80</text><text transform="rotate(.3 322.50 80.23)" x="322.50" y="80.23" class="k">5.64</text><text transform="rotate(.3 338.48 80.23)" x="338.48" y="80.23" class="k">97.87</text><text transform="rotate(.3 354.46 80.23)" x="354.46" y="80.23" class="k">95.42</text><text transform="rotate(.3 210.64 91.77)" x="210.64" y="91.77" class="k">96.88</text><text transform="rotate(.3 226.62 91.77)" x="226.62" y="91.77" class="k">98.66</text><text transform="rotate(.3 242.60 91.77)" x="242.60" y="91.77" class="k">89.77</text><text transform="rotate(.3 258.58 91.77)" x="258.58" y="91.77" class="k">100.00</text><text transform="rotate(.3 274.56 91.77)" x="274.56" y="91.77" class="k">100.00</text><text transform="rotate(.3 290.54 91.77)" x="290.54" y="91.77" class="k">100.00</text><text transform="rotate(.3 306.52 91.77)" x="306.52" y="91.77" class="k">99.80</text><text transform="rotate(.3 322.50 91.77)" x="322.50" y="91.77" class="k">5.64</text><text transform="rotate(.3 338.48 91.77)" x="338.48" y="91.77" class="k">97.87</text><text transform="rotate(.3 354.46 91.77)" x="354.46" y="91.77" class="k">95.42</text><text transform="rotate(.3 210.64 103.30)" x="210.64" y="103.30" class="k">77.60</text><text transform="rotate(.3 226.62 103.30)" x="226.62" y="103.30" class="k">94.81</text><text transform="rotate(.3 242.60 103.30)" x="242.60" y="103.30" class="w">74.95</text><text transform="rotate(.3 258.58 103.30)" x="258.58" y="103.30" class="k">99.45</text><text transform="rotate(.3 274.56 103.30)" x="274.56" y="103.30" class="k">100.00</text><text transform="rotate(.3 290.54 103.30)" x="290.54" y="103.30" class="k">100.00</text><text transform="rotate(.3 306.52 103.30)" x="306.52" y="103.30" class="k">99.61</text><text transform="rotate(.3 322.50 103.30)" x="322.50" y="103.30" class="k">4.45</text><text transform="rotate(.3 338.48 103.30)" x="338.48" y="103.30" class="k">92.34</text><text transform="rotate(.3 354.46 103.30)" x="354.46" y="103.30" class="k">94.54</text></g>
<path d="M210.64 107.90v0.9M226.62 107.90v0.9M242.60 107.90v0.9M258.58 107.90v0.9M274.56 107.90v0.9M290.54 107.90v0.9M306.52 107.90v0.9M322.50 107.90v0.9M338.48 107.90v0.9M354.46 107.90v0.9M202.65 9.87h-0.9M202.65 21.40h-0.9M202.65 32.93h-0.9M202.65 44.47h-0.9M202.65 56.00h-0.9M202.65 67.53h-0.9M202.65 79.07h-0.9M202.65 90.60h-0.9M202.65 102.13h-0.9" stroke="#262626" stroke-width="0.35" fill="none"/>
<g class="tk k" font-size="3.02" style="stroke-width:.05px"><text transform="rotate(.3 210.64 112.50)" x="210.64" y="112.50" text-anchor="middle">CW</text><text transform="rotate(.3 226.62 112.50)" x="226.62" y="112.50" text-anchor="middle">JSMA</text><text transform="rotate(.3 242.60 112.50)" x="242.60" y="112.50" text-anchor="middle">DeepFool</text><text transform="rotate(.3 258.58 112.50)" x="258.58" y="112.50" text-anchor="middle">FGSM</text><text transform="rotate(.3 274.56 112.50)" x="274.56" y="112.50" text-anchor="middle">BIM</text><text transform="rotate(.3 290.54 112.50)" x="290.54" y="112.50" text-anchor="middle">PGD</text><text transform="rotate(.3 306.52 112.50)" x="306.52" y="112.50" text-anchor="middle">Universal</text><text transform="rotate(.3 322.50 112.50)" x="322.50" y="112.50" text-anchor="middle">FP rate</text><text transform="rotate(.3 338.48 112.50)" x="338.48" y="112.50" text-anchor="middle">SAE</text><text transform="rotate(.3 338.48 116.57)" x="338.48" y="116.57" text-anchor="middle">rate</text><text transform="rotate(.3 354.46 112.50)" x="354.46" y="112.50" text-anchor="middle">Harmonic</text><text transform="rotate(.3 354.46 116.57)" x="354.46" y="116.57" text-anchor="middle">rate</text><text transform="rotate(.3 200.75 11.45)" x="200.75" y="11.45" text-anchor="end">CW</text><text transform="rotate(.3 200.75 22.99)" x="200.75" y="22.99" text-anchor="end">JSMA</text><text transform="rotate(.3 200.75 34.52)" x="200.75" y="34.52" text-anchor="end">DeepFool</text><text transform="rotate(.3 200.75 46.05)" x="200.75" y="46.05" text-anchor="end">FGSM</text><text transform="rotate(.3 200.75 57.59)" x="200.75" y="57.59" text-anchor="end">BIM</text><text transform="rotate(.3 200.75 69.12)" x="200.75" y="69.12" text-anchor="end">PGD</text><text transform="rotate(.3 200.75 80.65)" x="200.75" y="80.65" text-anchor="end">Universal</text><text transform="rotate(.3 200.75 90.25)" x="200.75" y="90.25" text-anchor="end">All</text><text transform="rotate(.3 200.75 94.12)" x="200.75" y="94.12" text-anchor="end">attacks</text><text transform="rotate(.3 200.75 103.72)" x="200.75" y="103.72" text-anchor="end">Default</text></g>
</g>
<text class="cap" x="274.0" y="139.3" text-anchor="middle" textLength="119.0" lengthAdjust="spacingAndGlyphs">(<tspan font-weight="bold">b</tspan>) <tspan font-style="italic">Distance Deviation</tspan></text>
<g class="hm" id="pc" filter="url(#bl)">
<rect x="385.60" y="4.10" width="16.03" height="11.59" fill="#f9ddc9"/>
<rect x="401.58" y="4.10" width="16.03" height="11.59" fill="#f9ddc9"/>
<rect x="417.56" y="4.10" width="16.03" height="11.59" fill="#f7c7a8"/>
<rect x="433.54" y="4.10" width="16.03" height="11.59" fill="#f5946b"/>
<rect x="449.52" y="4.10" width="16.03" height="11.59" fill="#8e1d5b"/>
<rect x="465.50" y="4.10" width="16.03" height="11.59" fill="#921c5b"/>
<rect x="481.48" y="4.10" width="16.03" height="11.59" fill="#f3714d"/>
<rect x="497.46" y="4.10" width="16.03" height="11.59" fill="#f6b995"/>
<rect x="513.44" y="4.10" width="16.03" height="11.59" fill="#f37852"/>
<rect x="529.42" y="4.10" width="16.03" height="11.59" fill="#f6b893"/>
<rect x="385.60" y="15.64" width="16.03" height="11.59" fill="#f8d7c0"/>
<rect x="401.58" y="15.64" width="16.03" height="11.59" fill="#f9e3d2"/>
<rect x="417.56" y="15.64" width="16.03" height="11.59" fill="#f7cdb1"/>
<rect x="433.54" y="15.64" width="16.03" height="11.59" fill="#faebdd"/>
<rect x="449.52" y="15.64" width="16.03" height="11.59" fill="#faebdd"/>
<rect x="465.50" y="15.64" width="16.03" height="11.59" fill="#faebdd"/>
<rect x="481.48" y="15.64" width="16.03" height="11.59" fill="#faebdd"/>
<rect x="497.46" y="15.64" width="16.03" height="11.59" fill="#f69c73"/>
<rect x="513.44" y="15.64" width="16.03" height="11.59" fill="#f9e3d2"/>
<rect x="529.42" y="15.64" width="16.03" height="11.59" fill="#f8dac5"/>
<rect x="385.60" y="27.19" width="16.03" height="11.59" fill="#fae9da"/>
<rect x="401.58" y="27.19" width="16.03" height="11.59" fill="#f8dac5"/>
<rect x="417.56" y="27.19" width="16.03" height="11.59" fill="#f8d6be"/>
<rect x="433.54" y="27.19" width="16.03" height="11.59" fill="#f26747"/>
<rect x="449.52" y="27.19" width="16.03" height="11.59" fill="#241432"/>
<rect x="465.50" y="27.19" width="16.03" height="11.59" fill="#1a102a"/>
<rect x="481.48" y="27.19" width="16.03" height="11.59" fill="#bc1656"/>
<rect x="497.46" y="27.19" width="16.03" height="11.59" fill="#f47d57"/>
<rect x="513.44" y="27.19" width="16.03" height="11.59" fill="#e83f3f"/>
<rect x="529.42" y="27.19" width="16.03" height="11.59" fill="#f69c73"/>
<rect x="385.60" y="38.73" width="16.03" height="11.59" fill="#f7c4a4"/>
<rect x="401.58" y="38.73" width="16.03" height="11.59" fill="#f9e2d0"/>
<rect x="417.56" y="38.73" width="16.03" height="11.59" fill="#f6b691"/>
<rect x="433.54" y="38.73" width="16.03" height="11.59" fill="#faebdd"/>
<rect x="449.52" y="38.73" width="16.03" height="11.59" fill="#faebdd"/>
<rect x="465.50" y="38.73" width="16.03" height="11.59" fill="#faebdd"/>
<rect x="481.48" y="38.73" width="16.03" height="11.59" fill="#faebdd"/>
<rect x="497.46" y="38.73" width="16.03" height="11.59" fill="#f26948"/>
<rect x="513.44" y="38.73" width="16.03" height="11.59" fill="#f9ddc9"/>
<rect x="529.42" y="38.73" width="16.03" height="11.59" fill="#f8d6be"/>
<rect x="385.60" y="50.28" width="16.03" height="11.59" fill="#f7c4a4"/>
<rect x="401.58" y="50.28" width="16.03" height="11.59" fill="#f9e2d0"/>
<rect x="417.56" y="50.28" width="16.03" height="11.59" fill="#f6b691"/>
<rect x="433.54" y="50.28" width="16.03" height="11.59" fill="#faebdd"/>
<rect x="449.52" y="50.28" width="16.03" height="11.59" fill="#faebdd"/>
<rect x="465.50" y="50.28" width="16.03" height="11.59" fill="#faebdd"/>
<rect x="481.48" y="50.28" width="16.03" height="11.59" fill="#faebdd"/>
<rect x="497.46" y="50.28" width="16.03" height="11.59" fill="#f26948"/>
<rect x="513.44" y="50.28" width="16.03" height="11.59" fill="#f9ddc9"/>
<rect x="529.42" y="50.28" width="16.03" height="11.59" fill="#f8d6be"/>
<rect x="385.60" y="61.82" width="16.03" height="11.59" fill="#f7c4a4"/>
<rect x="401.58" y="61.82" width="16.03" height="11.59" fill="#f9e2d0"/>
<rect x="417.56" y="61.82" width="16.03" height="11.59" fill="#f6b691"/>
<rect x="433.54" y="61.82" width="16.03" height="11.59" fill="#faebdd"/>
<rect x="449.52" y="61.82" width="16.03" height="11.59" fill="#faebdd"/>
<rect x="465.50" y="61.82" width="16.03" height="11.59" fill="#faebdd"/>
<rect x="481.48" y="61.82" width="16.03" height="11.59" fill="#faebdd"/>
<rect x="497.46" y="61.82" width="16.03" height="11.59" fill="#f26948"/>
<rect x="513.44" y="61.82" width="16.03" height="11.59" fill="#f9ddc9"/>
<rect x="529.42" y="61.82" width="16.03" height="11.59" fill="#f8d6be"/>
<rect x="385.60" y="73.37" width="16.03" height="11.59" fill="#f7c4a4"/>
<rect x="401.58" y="73.37" width="16.03" height="11.59" fill="#f9e2d0"/>
<rect x="417.56" y="73.37" width="16.03" height="11.59" fill="#f6b691"/>
<rect x="433.54" y="73.37" width="16.03" height="11.59" fill="#faebdd"/>
<rect x="449.52" y="73.37" width="16.03" height="11.59" fill="#faebdd"/>
<rect x="465.50" y="73.37" width="16.03" height="11.59" fill="#faebdd"/>
<rect x="481.48" y="73.37" width="16.03" height="11.59" fill="#faebdd"/>
<rect x="497.46" y="73.37" width="16.03" height="11.59" fill="#f26948"/>
<rect x="513.44" y="73.37" width="16.03" height="11.59" fill="#f9ddc9"/>
<rect x="529.42" y="73.37" width="16.03" height="11.59" fill="#f8d6be"/>
<rect x="385.60" y="84.91" width="16.03" height="11.59" fill="#f8d7c0"/>
<rect x="401.58" y="84.91" width="16.03" height="11.59" fill="#f9e3d2"/>
<rect x="417.56" y="84.91" width="16.03" height="11.59" fill="#f7cdb1"/>
<rect x="433.54" y="84.91" width="16.03" height="11.59" fill="#faebdd"/>
<rect x="449.52" y="84.91" width="16.03" height="11.59" fill="#faebdd"/>
<rect x="465.50" y="84.91" width="16.03" height="11.59" fill="#faebdd"/>
<rect x="481.48" y="84.91" width="16.03" height="11.59" fill="#faebdd"/>
<rect x="497.46" y="84.91" width="16.03" height="11.59" fill="#f69c73"/>
<rect x="513.44" y="84.91" width="16.03" height="11.59" fill="#f9e3d2"/>
<rect x="529.42" y="84.91" width="16.03" height="11.59" fill="#f8dac5"/>
<rect x="385.60" y="96.46" width="16.03" height="11.59" fill="#f47a54"/>
<rect x="401.58" y="96.46" width="16.03" height="11.59" fill="#f8dcc7"/>
<rect x="417.56" y="96.46" width="16.03" height="11.59" fill="#f37852"/>
<rect x="433.54" y="96.46" width="16.03" height="11.59" fill="#faebdd"/>
<rect x="449.52" y="96.46" width="16.03" height="11.59" fill="#faebdd"/>
<rect x="465.50" y="96.46" width="16.03" height="11.59" fill="#faebdd"/>
<rect x="481.48" y="96.46" width="16.03" height="11.59" fill="#faebdd"/>
<rect x="497.46" y="96.46" width="16.03" height="11.59" fill="#f8dac5"/>
<rect x="513.44" y="96.46" width="16.03" height="11.59" fill="#f7ccaf"/>
<rect x="529.42" y="96.46" width="16.03" height="11.59" fill="#f8d7c0"/>
<path d="M385.60 4.10V108.00M401.58 4.10V108.00M417.56 4.10V108.00M433.54 4.10V108.00M449.52 4.10V108.00M465.50 4.10V108.00M481.48 4.10V108.00M497.46 4.10V108.00M513.44 4.10V108.00M529.42 4.10V108.00M545.40 4.10V108.00M385.60 4.10H545.40M385.60 15.64H545.40M385.60 27.19H545.40M385.60 38.73H545.40M385.60 50.28H545.40M385.60 61.82H545.40M385.60 73.37H545.40M385.60 84.91H545.40M385.60 96.46H545.40M385.60 108.00H545.40" stroke="#ffffff" stroke-opacity="0.22" stroke-width="0.4" fill="none"/>
<g class="an" font-size="3.38" text-anchor="middle"><text transform="rotate(.3 393.59 11.04)" x="393.59" y="11.04" class="k">96.44</text><text transform="rotate(.3 409.57 11.04)" x="409.57" y="11.04" class="k">96.44</text><text transform="rotate(.3 425.55 11.04)" x="425.55" y="11.04" class="k">90.40</text><text transform="rotate(.3 441.53 11.04)" x="441.53" y="11.04" class="k">77.74</text><text transform="rotate(.3 457.51 11.04)" x="457.51" y="11.04" class="w">35.80</text><text transform="rotate(.3 473.49 11.04)" x="473.49" y="11.04" class="w">36.65</text><text transform="rotate(.3 489.47 11.04)" x="489.47" y="11.04" class="w">70.25</text><text transform="rotate(.3 505.45 11.04)" x="505.45" y="11.04" class="k">4.75</text><text transform="rotate(.3 521.43 11.04)" x="521.43" y="11.04" class="w">71.78</text><text transform="rotate(.3 537.41 11.04)" x="537.41" y="11.04" class="k">86.37</text><text transform="rotate(.3 393.59 22.58)" x="393.59" y="22.58" class="k">94.66</text><text transform="rotate(.3 409.57 22.58)" x="409.57" y="22.58" class="k">97.77</text><text transform="rotate(.3 425.55 22.58)" x="425.55" y="22.58" class="k">92.07</text><text transform="rotate(.3 441.53 22.58)" x="441.53" y="22.58" class="k">100.00</text><text transform="rotate(.3 457.51 22.58)" x="457.51" y="22.58" class="k">100.00</text><text transform="rotate(.3 473.49 22.58)" x="473.49" y="22.58" class="k">100.00</text><text transform="rotate(.3 489.47 22.58)" x="489.47" y="22.58" class="k">99.88</text><text transform="rotate(.3 505.45 22.58)" x="505.45" y="22.58" class="k">5.49</text><text transform="rotate(.3 521.43 22.58)" x="521.43" y="22.58" class="k">97.77</text><text transform="rotate(.3 537.41 22.58)" x="537.41" y="22.58" class="k">95.49</text><text transform="rotate(.3 393.59 34.13)" x="393.59" y="34.13" class="k">99.26</text><text transform="rotate(.3 409.57 34.13)" x="409.57" y="34.13" class="k">95.40</text><text transform="rotate(.3 425.55 34.13)" x="425.55" y="34.13" class="k">94.36</text><text transform="rotate(.3 441.53 34.13)" x="441.53" y="34.13" class="w">68.13</text><text transform="rotate(.3 457.51 34.13)" x="457.51" y="34.13" class="w">9.59</text><text transform="rotate(.3 473.49 34.13)" x="473.49" y="34.13" class="w">6.68</text><text transform="rotate(.3 489.47 34.13)" x="489.47" y="34.13" class="w">46.23</text><text transform="rotate(.3 505.45 34.13)" x="505.45" y="34.13" class="w">6.23</text><text transform="rotate(.3 521.43 34.13)" x="521.43" y="34.13" class="w">59.95</text><text transform="rotate(.3 537.41 34.13)" x="537.41" y="34.13" class="k">79.90</text><text transform="rotate(.3 393.59 45.67)" x="393.59" y="45.67" class="k">89.47</text><text transform="rotate(.3 409.57 45.67)" x="409.57" y="45.67" class="k">97.48</text><text transform="rotate(.3 425.55 45.67)" x="425.55" y="45.67" class="k">86.01</text><text transform="rotate(.3 441.53 45.67)" x="441.53" y="45.67" class="k">100.00</text><text transform="rotate(.3 457.51 45.67)" x="457.51" y="45.67" class="k">100.00</text><text transform="rotate(.3 473.49 45.67)" x="473.49" y="45.67" class="k">100.00</text><text transform="rotate(.3 489.47 45.67)" x="489.47" y="45.67" class="k">99.86</text><text transform="rotate(.3 505.45 45.67)" x="505.45" y="45.67" class="w">6.68</text><text transform="rotate(.3 521.43 45.67)" x="521.43" y="45.67" class="k">96.12</text><text transform="rotate(.3 537.41 45.67)" x="537.41" y="45.67" class="k">94.17</text><text transform="rotate(.3 393.59 57.22)" x="393.59" y="57.22" class="k">89.47</text><text transform="rotate(.3 409.57 57.22)" x="409.57" y="57.22" class="k">97.48</text><text transform="rotate(.3 425.55 57.22)" x="425.55" y="57.22" class="k">86.01</text><text transform="rotate(.3 441.53 57.22)" x="441.53" y="57.22" class="k">100.00</text><text transform="rotate(.3 457.51 57.22)" x="457.51" y="57.22" class="k">100.00</text><text transform="rotate(.3 473.49 57.22)" x="473.49" y="57.22" class="k">100.00</text><text transform="rotate(.3 489.47 57.22)" x="489.47" y="57.22" class="k">99.86</text><text transform="rotate(.3 505.45 57.22)" x="505.45" y="57.22" class="w">6.68</text><text transform="rotate(.3 521.43 57.22)" x="521.43" y="57.22" class="k">96.12</text><text transform="rotate(.3 537.41 57.22)" x="537.41" y="57.22" class="k">94.17</text><text transform="rotate(.3 393.59 68.76)" x="393.59" y="68.76" class="k">89.47</text><text transform="rotate(.3 409.57 68.76)" x="409.57" y="68.76" class="k">97.48</text><text transform="rotate(.3 425.55 68.76)" x="425.55" y="68.76" class="k">86.01</text><text transform="rotate(.3 441.53 68.76)" x="441.53" y="68.76" class="k">100.00</text><text transform="rotate(.3 457.51 68.76)" x="457.51" y="68.76" class="k">100.00</text><text transform="rotate(.3 473.49 68.76)" x="473.49" y="68.76" class="k">100.00</text><text transform="rotate(.3 489.47 68.76)" x="489.47" y="68.76" class="k">99.86</text><text transform="rotate(.3 505.45 68.76)" x="505.45" y="68.76" class="w">6.68</text><text transform="rotate(.3 521.43 68.76)" x="521.43" y="68.76" class="k">96.12</text><text transform="rotate(.3 537.41 68.76)" x="537.41" y="68.76" class="k">94.17</text><text transform="rotate(.3 393.59 80.31)" x="393.59" y="80.31" class="k">89.47</text><text transform="rotate(.3 409.57 80.31)" x="409.57" y="80.31" class="k">97.48</text><text transform="rotate(.3 425.55 80.31)" x="425.55" y="80.31" class="k">86.01</text><text transform="rotate(.3 441.53 80.31)" x="441.53" y="80.31" class="k">100.00</text><text transform="rotate(.3 457.51 80.31)" x="457.51" y="80.31" class="k">100.00</text><text transform="rotate(.3 473.49 80.31)" x="473.49" y="80.31" class="k">100.00</text><text transform="rotate(.3 489.47 80.31)" x="489.47" y="80.31" class="k">99.86</text><text transform="rotate(.3 505.45 80.31)" x="505.45" y="80.31" class="w">6.68</text><text transform="rotate(.3 521.43 80.31)" x="521.43" y="80.31" class="k">96.12</text><text transform="rotate(.3 537.41 80.31)" x="537.41" y="80.31" class="k">94.17</text><text transform="rotate(.3 393.59 91.85)" x="393.59" y="91.85" class="k">94.66</text><text transform="rotate(.3 409.57 91.85)" x="409.57" y="91.85" class="k">97.77</text><text transform="rotate(.3 425.55 91.85)" x="425.55" y="91.85" class="k">92.07</text><text transform="rotate(.3 441.53 91.85)" x="441.53" y="91.85" class="k">100.00</text><text transform="rotate(.3 457.51 91.85)" x="457.51" y="91.85" class="k">100.00</text><text transform="rotate(.3 473.49 91.85)" x="473.49" y="91.85" class="k">100.00</text><text transform="rotate(.3 489.47 91.85)" x="489.47" y="91.85" class="k">99.88</text><text transform="rotate(.3 505.45 91.85)" x="505.45" y="91.85" class="k">5.49</text><text transform="rotate(.3 521.43 91.85)" x="521.43" y="91.85" class="k">97.77</text><text transform="rotate(.3 537.41 91.85)" x="537.41" y="91.85" class="k">95.49</text><text transform="rotate(.3 393.59 103.39)" x="393.59" y="103.39" class="w">71.89</text><text transform="rotate(.3 409.57 103.39)" x="409.57" y="103.39" class="k">95.99</text><text transform="rotate(.3 425.55 103.39)" x="425.55" y="103.39" class="w">71.82</text><text transform="rotate(.3 441.53 103.39)" x="441.53" y="103.39" class="k">100.00</text><text transform="rotate(.3 457.51 103.39)" x="457.51" y="103.39" class="k">100.00</text><text transform="rotate(.3 473.49 103.39)" x="473.49" y="103.39" class="k">100.00</text><text transform="rotate(.3 489.47 103.39)" x="489.47" y="103.39" class="k">99.83</text><text transform="rotate(.3 505.45 103.39)" x="505.45" y="103.39" class="k">3.86</text><text transform="rotate(.3 521.43 103.39)" x="521.43" y="103.39" class="k">91.65</text><text transform="rotate(.3 537.41 103.39)" x="537.41" y="103.39" class="k">94.71</text></g>
<path d="M393.59 108.00v0.9M409.57 108.00v0.9M425.55 108.00v0.9M441.53 108.00v0.9M457.51 108.00v0.9M473.49 108.00v0.9M489.47 108.00v0.9M505.45 108.00v0.9M521.43 108.00v0.9M537.41 108.00v0.9M385.60 9.87h-0.9M385.60 21.42h-0.9M385.60 32.96h-0.9M385.60 44.51h-0.9M385.60 56.05h-0.9M385.60 67.59h-0.9M385.60 79.14h-0.9M385.60 90.68h-0.9M385.60 102.23h-0.9" stroke="#262626" stroke-width="0.35" fill="none"/>
<g class="tk k" font-size="3.02" style="stroke-width:.05px"><text transform="rotate(.3 393.59 112.60)" x="393.59" y="112.60" text-anchor="middle">CW</text><text transform="rotate(.3 409.57 112.60)" x="409.57" y="112.60" text-anchor="middle">JSMA</text><text transform="rotate(.3 425.55 112.60)" x="425.55" y="112.60" text-anchor="middle">DeepFool</text><text transform="rotate(.3 441.53 112.60)" x="441.53" y="112.60" text-anchor="middle">FGSM</text><text transform="rotate(.3 457.51 112.60)" x="457.51" y="112.60" text-anchor="middle">BIM</text><text transform="rotate(.3 473.49 112.60)" x="473.49" y="112.60" text-anchor="middle">PGD</text><text transform="rotate(.3 489.47 112.60)" x="489.47" y="112.60" text-anchor="middle">Universal</text><text transform="rotate(.3 505.45 112.60)" x="505.45" y="112.60" text-anchor="middle">FP rate</text><text transform="rotate(.3 521.43 112.60)" x="521.43" y="112.60" text-anchor="middle">SAE</text><text transform="rotate(.3 521.43 116.67)" x="521.43" y="116.67" text-anchor="middle">rate</text><text transform="rotate(.3 537.41 112.60)" x="537.41" y="112.60" text-anchor="middle">Harmonic</text><text transform="rotate(.3 537.41 116.67)" x="537.41" y="116.67" text-anchor="middle">rate</text><text transform="rotate(.3 383.70 11.46)" x="383.70" y="11.46" text-anchor="end">CW</text><text transform="rotate(.3 383.70 23.00)" x="383.70" y="23.00" text-anchor="end">JSMA</text><text transform="rotate(.3 383.70 34.55)" x="383.70" y="34.55" text-anchor="end">DeepFool</text><text transform="rotate(.3 383.70 46.09)" x="383.70" y="46.09" text-anchor="end">FGSM</text><text transform="rotate(.3 383.70 57.64)" x="383.70" y="57.64" text-anchor="end">BIM</text><text transform="rotate(.3 383.70 69.18)" x="383.70" y="69.18" text-anchor="end">PGD</text><text transform="rotate(.3 383.70 80.73)" x="383.70" y="80.73" text-anchor="end">Universal</text><text transform="rotate(.3 383.70 90.34)" x="383.70" y="90.34" text-anchor="end">All</text><text transform="rotate(.3 383.70 94.20)" x="383.70" y="94.20" text-anchor="end">attacks</text><text transform="rotate(.3 383.70 103.81)" x="383.70" y="103.81" text-anchor="end">Default</text></g>
</g>
<text class="cap" x="457.0" y="139.3" text-anchor="middle" textLength="103.0" lengthAdjust="spacingAndGlyphs">(<tspan font-weight="bold">c</tspan>) <tspan font-style="italic">Confidence Drop</tspan></text>
<g class="hm" id="pd" filter="url(#bl)">
<rect x="19.90" y="148.10" width="16.06" height="12.95" fill="#f26747"/>
<rect x="35.91" y="148.10" width="16.06" height="12.95" fill="#0a091f"/>
<rect x="51.92" y="148.10" width="16.06" height="12.95" fill="#a3195b"/>
<rect x="67.93" y="148.10" width="16.06" height="12.95" fill="#03051a"/>
<rect x="83.94" y="148.10" width="16.06" height="12.95" fill="#08081e"/>
<rect x="99.95" y="148.10" width="16.06" height="12.95" fill="#06071c"/>
<rect x="115.96" y="148.10" width="16.06" height="12.95" fill="#07071d"/>
<rect x="131.97" y="148.10" width="16.06" height="12.95" fill="#f69c73"/>
<rect x="147.98" y="148.10" width="16.06" height="12.95" fill="#3f1b43"/>
<rect x="163.99" y="148.10" width="16.06" height="12.95" fill="#9c1b5b"/>
<rect x="19.90" y="161.00" width="16.06" height="12.95" fill="#ad1759"/>
<rect x="35.91" y="161.00" width="16.06" height="12.95" fill="#f37450"/>
<rect x="51.92" y="161.00" width="16.06" height="12.95" fill="#5b1e51"/>
<rect x="67.93" y="161.00" width="16.06" height="12.95" fill="#f47a54"/>
<rect x="83.94" y="161.00" width="16.06" height="12.95" fill="#f7cfb3"/>
<rect x="99.95" y="161.00" width="16.06" height="12.95" fill="#f47f58"/>
<rect x="115.96" y="161.00" width="16.06" height="12.95" fill="#eb463e"/>
<rect x="131.97" y="161.00" width="16.06" height="12.95" fill="#f6be9b"/>
<rect x="147.98" y="161.00" width="16.06" height="12.95" fill="#ec4a3e"/>
<rect x="163.99" y="161.00" width="16.06" height="12.95" fill="#f6a67e"/>
<rect x="19.90" y="173.90" width="16.06" height="12.95" fill="#e43841"/>
<rect x="35.91" y="173.90" width="16.06" height="12.95" fill="#170f28"/>
<rect x="51.92" y="173.90" width="16.06" height="12.95" fill="#b21758"/>
<rect x="67.93" y="173.90" width="16.06" height="12.95" fill="#03051a"/>
<rect x="83.94" y="173.90" width="16.06" height="12.95" fill="#e23442"/>
<rect x="99.95" y="173.90" width="16.06" height="12.95" fill="#3a1a41"/>
<rect x="115.96" y="173.90" width="16.06" height="12.95" fill="#481c48"/>
<rect x="131.97" y="173.90" width="16.06" height="12.95" fill="#f69c73"/>
<rect x="147.98" y="173.90" width="16.06" height="12.95" fill="#701f57"/>
<rect x="163.99" y="173.90" width="16.06" height="12.95" fill="#dc2b46"/>
<rect x="19.90" y="186.80" width="16.06" height="12.95" fill="#ad1759"/>
<rect x="35.91" y="186.80" width="16.06" height="12.95" fill="#f37450"/>
<rect x="51.92" y="186.80" width="16.06" height="12.95" fill="#5b1e51"/>
<rect x="67.93" y="186.80" width="16.06" height="12.95" fill="#f47a54"/>
<rect x="83.94" y="186.80" width="16.06" height="12.95" fill="#f7cfb3"/>
<rect x="99.95" y="186.80" width="16.06" height="12.95" fill="#f47f58"/>
<rect x="115.96" y="186.80" width="16.06" height="12.95" fill="#eb463e"/>
<rect x="131.97" y="186.80" width="16.06" height="12.95" fill="#f6be9b"/>
<rect x="147.98" y="186.80" width="16.06" height="12.95" fill="#ec4a3e"/>
<rect x="163.99" y="186.80" width="16.06" height="12.95" fill="#f6a67e"/>
<rect x="19.90" y="199.70" width="16.06" height="12.95" fill="#35193e"/>
<rect x="35.91" y="199.70" width="16.06" height="12.95" fill="#4e1d4b"/>
<rect x="51.92" y="199.70" width="16.06" height="12.95" fill="#30173a"/>
<rect x="67.93" y="199.70" width="16.06" height="12.95" fill="#e83f3f"/>
<rect x="83.94" y="199.70" width="16.06" height="12.95" fill="#f7cfb3"/>
<rect x="99.95" y="199.70" width="16.06" height="12.95" fill="#f69b71"/>
<rect x="115.96" y="199.70" width="16.06" height="12.95" fill="#ea443e"/>
<rect x="131.97" y="199.70" width="16.06" height="12.95" fill="#f9e3d2"/>
<rect x="147.98" y="199.70" width="16.06" height="12.95" fill="#bd1655"/>
<rect x="163.99" y="199.70" width="16.06" height="12.95" fill="#f4845d"/>
<rect x="19.90" y="212.60" width="16.06" height="12.95" fill="#541e4e"/>
<rect x="35.91" y="212.60" width="16.06" height="12.95" fill="#781f59"/>
<rect x="51.92" y="212.60" width="16.06" height="12.95" fill="#561e4f"/>
<rect x="67.93" y="212.60" width="16.06" height="12.95" fill="#f4815a"/>
<rect x="83.94" y="212.60" width="16.06" height="12.95" fill="#f9e2d0"/>
<rect x="99.95" y="212.60" width="16.06" height="12.95" fill="#f7ccaf"/>
<rect x="115.96" y="212.60" width="16.06" height="12.95" fill="#f37852"/>
<rect x="131.97" y="212.60" width="16.06" height="12.95" fill="#f7c6a6"/>
<rect x="147.98" y="212.60" width="16.06" height="12.95" fill="#e43841"/>
<rect x="163.99" y="212.60" width="16.06" height="12.95" fill="#f69c73"/>
<rect x="19.90" y="225.50" width="16.06" height="12.95" fill="#541e4e"/>
<rect x="35.91" y="225.50" width="16.06" height="12.95" fill="#781f59"/>
<rect x="51.92" y="225.50" width="16.06" height="12.95" fill="#561e4f"/>
<rect x="67.93" y="225.50" width="16.06" height="12.95" fill="#f4815a"/>
<rect x="83.94" y="225.50" width="16.06" height="12.95" fill="#f9e2d0"/>
<rect x="99.95" y="225.50" width="16.06" height="12.95" fill="#f7ccaf"/>
<rect x="115.96" y="225.50" width="16.06" height="12.95" fill="#f37852"/>
<rect x="131.97" y="225.50" width="16.06" height="12.95" fill="#f7c6a6"/>
<rect x="147.98" y="225.50" width="16.06" height="12.95" fill="#e43841"/>
<rect x="163.99" y="225.50" width="16.06" height="12.95" fill="#f69c73"/>
<rect x="19.90" y="238.40" width="16.06" height="12.95" fill="#ad1759"/>
<rect x="35.91" y="238.40" width="16.06" height="12.95" fill="#f37450"/>
<rect x="51.92" y="238.40" width="16.06" height="12.95" fill="#5b1e51"/>
<rect x="67.93" y="238.40" width="16.06" height="12.95" fill="#f47a54"/>
<rect x="83.94" y="238.40" width="16.06" height="12.95" fill="#f7cfb3"/>
<rect x="99.95" y="238.40" width="16.06" height="12.95" fill="#f47f58"/>
<rect x="115.96" y="238.40" width="16.06" height="12.95" fill="#eb463e"/>
<rect x="131.97" y="238.40" width="16.06" height="12.95" fill="#f6be9b"/>
<rect x="147.98" y="238.40" width="16.06" height="12.95" fill="#ec4a3e"/>
<rect x="163.99" y="238.40" width="16.06" height="12.95" fill="#f6a67e"/>
<path d="M19.90 148.10V251.30M35.91 148.10V251.30M51.92 148.10V251.30M67.93 148.10V251.30M83.94 148.10V251.30M99.95 148.10V251.30M115.96 148.10V251.30M131.97 148.10V251.30M147.98 148.10V251.30M163.99 148.10V251.30M180.00 148.10V251.30M19.90 148.10H180.00M19.90 161.00H180.00M19.90 173.90H180.00M19.90 186.80H180.00M19.90 199.70H180.00M19.90 212.60H180.00M19.90 225.50H180.00M19.90 238.40H180.00M19.90 251.30H180.00" stroke="#ffffff" stroke-opacity="0.22" stroke-width="0.4" fill="none"/>
<g class="an" font-size="3.38" text-anchor="middle"><text transform="rotate(.3 27.90 155.72)" x="27.90" y="155.72" class="w">68.25</text><text transform="rotate(.3 43.91 155.72)" x="43.91" y="155.72" class="w">2.37</text><text transform="rotate(.3 59.92 155.72)" x="59.92" y="155.72" class="w">40.50</text><text transform="rotate(.3 75.93 155.72)" x="75.93" y="155.72" class="w">0.33</text><text transform="rotate(.3 91.94 155.72)" x="91.94" y="155.72" class="w">2.32</text><text transform="rotate(.3 107.95 155.72)" x="107.95" y="155.72" class="w">1.34</text><text transform="rotate(.3 123.96 155.72)" x="123.96" y="155.72" class="w">1.71</text><text transform="rotate(.3 139.97 155.72)" x="139.97" y="155.72" class="k">3.04</text><text transform="rotate(.3 155.98 155.72)" x="155.98" y="155.72" class="w">16.69</text><text transform="rotate(.3 171.99 155.72)" x="171.99" y="155.72" class="w">38.80</text><text transform="rotate(.3 27.90 168.62)" x="27.90" y="168.62" class="w">42.88</text><text transform="rotate(.3 43.91 168.62)" x="43.91" y="168.62" class="w">70.92</text><text transform="rotate(.3 59.92 168.62)" x="59.92" y="168.62" class="w">23.80</text><text transform="rotate(.3 75.93 168.62)" x="75.93" y="168.62" class="w">71.99</text><text transform="rotate(.3 91.94 168.62)" x="91.94" y="168.62" class="k">92.53</text><text transform="rotate(.3 107.95 168.62)" x="107.95" y="168.62" class="w">73.34</text><text transform="rotate(.3 123.96 168.62)" x="123.96" y="168.62" class="w">61.41</text><text transform="rotate(.3 139.97 168.62)" x="139.97" y="168.62" class="k">4.45</text><text transform="rotate(.3 155.98 168.62)" x="155.98" y="168.62" class="w">62.41</text><text transform="rotate(.3 171.99 168.62)" x="171.99" y="168.62" class="k">82.13</text><text transform="rotate(.3 27.90 181.52)" x="27.90" y="181.52" class="w">58.46</text><text transform="rotate(.3 43.91 181.52)" x="43.91" y="181.52" class="w">6.08</text><text transform="rotate(.3 59.92 181.52)" x="59.92" y="181.52" class="w">43.84</text><text transform="rotate(.3 75.93 181.52)" x="75.93" y="181.52" class="w">0.11</text><text transform="rotate(.3 91.94 181.52)" x="91.94" y="181.52" class="w">57.67</text><text transform="rotate(.3 107.95 181.52)" x="107.95" y="181.52" class="w">15.38</text><text transform="rotate(.3 123.96 181.52)" x="123.96" y="181.52" class="w">18.87</text><text transform="rotate(.3 139.97 181.52)" x="139.97" y="181.52" class="k">3.04</text><text transform="rotate(.3 155.98 181.52)" x="155.98" y="181.52" class="w">28.63</text><text transform="rotate(.3 171.99 181.52)" x="171.99" y="181.52" class="w">55.44</text><text transform="rotate(.3 27.90 194.42)" x="27.90" y="194.42" class="w">42.88</text><text transform="rotate(.3 43.91 194.42)" x="43.91" y="194.42" class="w">70.92</text><text transform="rotate(.3 59.92 194.42)" x="59.92" y="194.42" class="w">23.80</text><text transform="rotate(.3 75.93 194.42)" x="75.93" y="194.42" class="w">71.99</text><text transform="rotate(.3 91.94 194.42)" x="91.94" y="194.42" class="k">92.53</text><text transform="rotate(.3 107.95 194.42)" x="107.95" y="194.42" class="w">73.34</text><text transform="rotate(.3 123.96 194.42)" x="123.96" y="194.42" class="w">61.41</text><text transform="rotate(.3 139.97 194.42)" x="139.97" y="194.42" class="k">4.45</text><text transform="rotate(.3 155.98 194.42)" x="155.98" y="194.42" class="w">62.41</text><text transform="rotate(.3 171.99 194.42)" x="171.99" y="194.42" class="k">82.13</text><text transform="rotate(.3 27.90 207.32)" x="27.90" y="207.32" class="w">14.24</text><text transform="rotate(.3 43.91 207.32)" x="43.91" y="207.32" class="w">20.33</text><text transform="rotate(.3 59.92 207.32)" x="59.92" y="207.32" class="w">12.53</text><text transform="rotate(.3 75.93 207.32)" x="75.93" y="207.32" class="w">60.05</text><text transform="rotate(.3 91.94 207.32)" x="91.94" y="207.32" class="k">92.28</text><text transform="rotate(.3 107.95 207.32)" x="107.95" y="207.32" class="k">79.38</text><text transform="rotate(.3 123.96 207.32)" x="123.96" y="207.32" class="w">61.24</text><text transform="rotate(.3 139.97 207.32)" x="139.97" y="207.32" class="k">2.23</text><text transform="rotate(.3 155.98 207.32)" x="155.98" y="207.32" class="w">46.58</text><text transform="rotate(.3 171.99 207.32)" x="171.99" y="207.32" class="w">74.55</text><text transform="rotate(.3 27.90 220.22)" x="27.90" y="220.22" class="w">22.11</text><text transform="rotate(.3 43.91 220.22)" x="43.91" y="220.22" class="w">30.56</text><text transform="rotate(.3 59.92 220.22)" x="59.92" y="220.22" class="w">22.55</text><text transform="rotate(.3 75.93 220.22)" x="75.93" y="220.22" class="w">73.45</text><text transform="rotate(.3 91.94 220.22)" x="91.94" y="220.22" class="k">97.48</text><text transform="rotate(.3 107.95 220.22)" x="107.95" y="220.22" class="k">91.69</text><text transform="rotate(.3 123.96 220.22)" x="123.96" y="220.22" class="w">71.52</text><text transform="rotate(.3 139.97 220.22)" x="139.97" y="220.22" class="k">4.30</text><text transform="rotate(.3 155.98 220.22)" x="155.98" y="220.22" class="w">58.48</text><text transform="rotate(.3 171.99 220.22)" x="171.99" y="220.22" class="k">80.03</text><text transform="rotate(.3 27.90 233.12)" x="27.90" y="233.12" class="w">22.11</text><text transform="rotate(.3 43.91 233.12)" x="43.91" y="233.12" class="w">30.56</text><text transform="rotate(.3 59.92 233.12)" x="59.92" y="233.12" class="w">22.55</text><text transform="rotate(.3 75.93 233.12)" x="75.93" y="233.12" class="w">73.45</text><text transform="rotate(.3 91.94 233.12)" x="91.94" y="233.12" class="k">97.48</text><text transform="rotate(.3 107.95 233.12)" x="107.95" y="233.12" class="k">91.69</text><text transform="rotate(.3 123.96 233.12)" x="123.96" y="233.12" class="w">71.52</text><text transform="rotate(.3 139.97 233.12)" x="139.97" y="233.12" class="k">4.30</text><text transform="rotate(.3 155.98 233.12)" x="155.98" y="233.12" class="w">58.48</text><text transform="rotate(.3 171.99 233.12)" x="171.99" y="233.12" class="k">80.03</text><text transform="rotate(.3 27.90 246.02)" x="27.90" y="246.02" class="w">42.88</text><text transform="rotate(.3 43.91 246.02)" x="43.91" y="246.02" class="w">70.92</text><text transform="rotate(.3 59.92 246.02)" x="59.92" y="246.02" class="w">23.80</text><text transform="rotate(.3 75.93 246.02)" x="75.93" y="246.02" class="w">71.99</text><text transform="rotate(.3 91.94 246.02)" x="91.94" y="246.02" class="k">92.53</text><text transform="rotate(.3 107.95 246.02)" x="107.95" y="246.02" class="w">73.34</text><text transform="rotate(.3 123.96 246.02)" x="123.96" y="246.02" class="w">61.41</text><text transform="rotate(.3 139.97 246.02)" x="139.97" y="246.02" class="k">4.45</text><text transform="rotate(.3 155.98 246.02)" x="155.98" y="246.02" class="w">62.41</text><text transform="rotate(.3 171.99 246.02)" x="171.99" y="246.02" class="k">82.13</text></g>
<path d="M27.90 251.30v0.9M43.91 251.30v0.9M59.92 251.30v0.9M75.94 251.30v0.9M91.94 251.30v0.9M107.95 251.30v0.9M123.96 251.30v0.9M139.97 251.30v0.9M155.98 251.30v0.9M171.99 251.30v0.9M19.90 154.55h-0.9M19.90 167.45h-0.9M19.90 180.35h-0.9M19.90 193.25h-0.9M19.90 206.15h-0.9M19.90 219.05h-0.9M19.90 231.95h-0.9M19.90 244.85h-0.9" stroke="#262626" stroke-width="0.35" fill="none"/>
<g class="tk k" font-size="3.02" style="stroke-width:.05px"><text transform="rotate(.3 27.90 255.90)" x="27.90" y="255.90" text-anchor="middle">CW</text><text transform="rotate(.3 43.91 255.90)" x="43.91" y="255.90" text-anchor="middle">JSMA</text><text transform="rotate(.3 59.92 255.90)" x="59.92" y="255.90" text-anchor="middle">DeepFool</text><text transform="rotate(.3 75.94 255.90)" x="75.94" y="255.90" text-anchor="middle">FGSM</text><text transform="rotate(.3 91.94 255.90)" x="91.94" y="255.90" text-anchor="middle">BIM</text><text transform="rotate(.3 107.95 255.90)" x="107.95" y="255.90" text-anchor="middle">PGD</text><text transform="rotate(.3 123.96 255.90)" x="123.96" y="255.90" text-anchor="middle">Universal</text><text transform="rotate(.3 139.97 255.90)" x="139.97" y="255.90" text-anchor="middle">FP rate</text><text transform="rotate(.3 155.98 255.90)" x="155.98" y="255.90" text-anchor="middle">SAE</text><text transform="rotate(.3 155.98 259.97)" x="155.98" y="259.97" text-anchor="middle">rate</text><text transform="rotate(.3 171.99 255.90)" x="171.99" y="255.90" text-anchor="middle">Harmonic</text><text transform="rotate(.3 171.99 259.97)" x="171.99" y="259.97" text-anchor="middle">rate</text><text transform="rotate(.3 18.00 156.14)" x="18.00" y="156.14" text-anchor="end">CW</text><text transform="rotate(.3 18.00 169.04)" x="18.00" y="169.04" text-anchor="end">JSMA</text><text transform="rotate(.3 18.00 181.94)" x="18.00" y="181.94" text-anchor="end">DeepFool</text><text transform="rotate(.3 18.00 194.84)" x="18.00" y="194.84" text-anchor="end">FGSM</text><text transform="rotate(.3 18.00 207.74)" x="18.00" y="207.74" text-anchor="end">BIM</text><text transform="rotate(.3 18.00 220.64)" x="18.00" y="220.64" text-anchor="end">PGD</text><text transform="rotate(.3 18.00 233.54)" x="18.00" y="233.54" text-anchor="end">Universal</text><text transform="rotate(.3 18.00 244.50)" x="18.00" y="244.50" text-anchor="end">All</text><text transform="rotate(.3 18.00 248.37)" x="18.00" y="248.37" text-anchor="end">attacks</text></g>
</g>
<text class="cap" x="91.2" y="284.4" text-anchor="middle" textLength="115.2" lengthAdjust="spacingAndGlyphs">(<tspan font-weight="bold">d</tspan>) <tspan>Feature Squeezer</tspan></text>
<g class="hm" id="pe" filter="url(#bl)">
<rect x="202.65" y="148.10" width="16.03" height="12.95" fill="#f7c4a4"/>
<rect x="218.63" y="148.10" width="16.03" height="12.95" fill="#ec4a3e"/>
<rect x="234.61" y="148.10" width="16.03" height="12.95" fill="#f6ad85"/>
<rect x="250.59" y="148.10" width="16.03" height="12.95" fill="#e03143"/>
<rect x="266.57" y="148.10" width="16.03" height="12.95" fill="#03051a"/>
<rect x="282.55" y="148.10" width="16.03" height="12.95" fill="#03051a"/>
<rect x="298.53" y="148.10" width="16.03" height="12.95" fill="#ea443e"/>
<rect x="314.51" y="148.10" width="16.03" height="12.95" fill="#faebdd"/>
<rect x="330.49" y="148.10" width="16.03" height="12.95" fill="#cd1c4e"/>
<rect x="346.47" y="148.10" width="16.03" height="12.95" fill="#f58b63"/>
<rect x="202.65" y="161.00" width="16.03" height="12.95" fill="#f7c6a6"/>
<rect x="218.63" y="161.00" width="16.03" height="12.95" fill="#f6a880"/>
<rect x="234.61" y="161.00" width="16.03" height="12.95" fill="#f6bf9d"/>
<rect x="250.59" y="161.00" width="16.03" height="12.95" fill="#f58a61"/>
<rect x="266.57" y="161.00" width="16.03" height="12.95" fill="#241432"/>
<rect x="282.55" y="161.00" width="16.03" height="12.95" fill="#581e4f"/>
<rect x="298.53" y="161.00" width="16.03" height="12.95" fill="#f6bf9d"/>
<rect x="314.51" y="161.00" width="16.03" height="12.95" fill="#f26948"/>
<rect x="330.49" y="161.00" width="16.03" height="12.95" fill="#ef5840"/>
<rect x="346.47" y="161.00" width="16.03" height="12.95" fill="#f6a880"/>
<rect x="202.65" y="173.90" width="16.03" height="12.95" fill="#f7c4a4"/>
<rect x="218.63" y="173.90" width="16.03" height="12.95" fill="#ec4a3e"/>
<rect x="234.61" y="173.90" width="16.03" height="12.95" fill="#f6ad85"/>
<rect x="250.59" y="173.90" width="16.03" height="12.95" fill="#e03143"/>
<rect x="266.57" y="173.90" width="16.03" height="12.95" fill="#03051a"/>
<rect x="282.55" y="173.90" width="16.03" height="12.95" fill="#03051a"/>
<rect x="298.53" y="173.90" width="16.03" height="12.95" fill="#ea443e"/>
<rect x="314.51" y="173.90" width="16.03" height="12.95" fill="#faebdd"/>
<rect x="330.49" y="173.90" width="16.03" height="12.95" fill="#cd1c4e"/>
<rect x="346.47" y="173.90" width="16.03" height="12.95" fill="#f58b63"/>
<rect x="202.65" y="186.80" width="16.03" height="12.95" fill="#f59067"/>
<rect x="218.63" y="186.80" width="16.03" height="12.95" fill="#ef5640"/>
<rect x="234.61" y="186.80" width="16.03" height="12.95" fill="#f4835b"/>
<rect x="250.59" y="186.80" width="16.03" height="12.95" fill="#f6a981"/>
<rect x="266.57" y="186.80" width="16.03" height="12.95" fill="#f4815a"/>
<rect x="282.55" y="186.80" width="16.03" height="12.95" fill="#df2f44"/>
<rect x="298.53" y="186.80" width="16.03" height="12.95" fill="#f9e2d0"/>
<rect x="314.51" y="186.80" width="16.03" height="12.95" fill="#de2e44"/>
<rect x="330.49" y="186.80" width="16.03" height="12.95" fill="#f58860"/>
<rect x="346.47" y="186.80" width="16.03" height="12.95" fill="#f6b691"/>
<rect x="202.65" y="199.70" width="16.03" height="12.95" fill="#9f1a5b"/>
<rect x="218.63" y="199.70" width="16.03" height="12.95" fill="#d92847"/>
<rect x="234.61" y="199.70" width="16.03" height="12.95" fill="#891e5b"/>
<rect x="250.59" y="199.70" width="16.03" height="12.95" fill="#e23442"/>
<rect x="266.57" y="199.70" width="16.03" height="12.95" fill="#faebdd"/>
<rect x="282.55" y="199.70" width="16.03" height="12.95" fill="#faebdd"/>
<rect x="298.53" y="199.70" width="16.03" height="12.95" fill="#f58a61"/>
<rect x="314.51" y="199.70" width="16.03" height="12.95" fill="#f6a37a"/>
<rect x="330.49" y="199.70" width="16.03" height="12.95" fill="#f05c42"/>
<rect x="346.47" y="199.70" width="16.03" height="12.95" fill="#f6ab83"/>
<rect x="202.65" y="212.60" width="16.03" height="12.95" fill="#9f1a5b"/>
<rect x="218.63" y="212.60" width="16.03" height="12.95" fill="#d92847"/>
<rect x="234.61" y="212.60" width="16.03" height="12.95" fill="#891e5b"/>
<rect x="250.59" y="212.60" width="16.03" height="12.95" fill="#e23442"/>
<rect x="266.57" y="212.60" width="16.03" height="12.95" fill="#faebdd"/>
<rect x="282.55" y="212.60" width="16.03" height="12.95" fill="#faebdd"/>
<rect x="298.53" y="212.60" width="16.03" height="12.95" fill="#f58a61"/>
<rect x="314.51" y="212.60" width="16.03" height="12.95" fill="#f6a37a"/>
<rect x="330.49" y="212.60" width="16.03" height="12.95" fill="#f05c42"/>
<rect x="346.47" y="212.60" width="16.03" height="12.95" fill="#f6ab83"/>
<rect x="202.65" y="225.50" width="16.03" height="12.95" fill="#f58d64"/>
<rect x="218.63" y="225.50" width="16.03" height="12.95" fill="#601f52"/>
<rect x="234.61" y="225.50" width="16.03" height="12.95" fill="#f16244"/>
<rect x="250.59" y="225.50" width="16.03" height="12.95" fill="#f3734e"/>
<rect x="266.57" y="225.50" width="16.03" height="12.95" fill="#f58a61"/>
<rect x="282.55" y="225.50" width="16.03" height="12.95" fill="#d2204c"/>
<rect x="298.53" y="225.50" width="16.03" height="12.95" fill="#f8d3ba"/>
<rect x="314.51" y="225.50" width="16.03" height="12.95" fill="#f7c9aa"/>
<rect x="330.49" y="225.50" width="16.03" height="12.95" fill="#f05c42"/>
<rect x="346.47" y="225.50" width="16.03" height="12.95" fill="#f6ad85"/>
<rect x="202.65" y="238.40" width="16.03" height="12.95" fill="#f7c9aa"/>
<rect x="218.63" y="238.40" width="16.03" height="12.95" fill="#f6ad85"/>
<rect x="234.61" y="238.40" width="16.03" height="12.95" fill="#f6bc99"/>
<rect x="250.59" y="238.40" width="16.03" height="12.95" fill="#f6b48f"/>
<rect x="266.57" y="238.40" width="16.03" height="12.95" fill="#fae8d8"/>
<rect x="282.55" y="238.40" width="16.03" height="12.95" fill="#faebdd"/>
<rect x="298.53" y="238.40" width="16.03" height="12.95" fill="#f8d7c0"/>
<rect x="314.51" y="238.40" width="16.03" height="12.95" fill="#ed4e3e"/>
<rect x="330.49" y="238.40" width="16.03" height="12.95" fill="#f7ccaf"/>
<rect x="346.47" y="238.40" width="16.03" height="12.95" fill="#f7cfb3"/>
<path d="M202.65 148.10V251.30M218.63 148.10V251.30M234.61 148.10V251.30M250.59 148.10V251.30M266.57 148.10V251.30M282.55 148.10V251.30M298.53 148.10V251.30M314.51 148.10V251.30M330.49 148.10V251.30M346.47 148.10V251.30M362.45 148.10V251.30M202.65 148.10H362.45M202.65 161.00H362.45M202.65 173.90H362.45M202.65 186.80H362.45M202.65 199.70H362.45M202.65 212.60H362.45M202.65 225.50H362.45M202.65 238.40H362.45M202.65 251.30H362.45" stroke="#ffffff" stroke-opacity="0.22" stroke-width="0.4" fill="none"/>
<g class="an" font-size="3.38" text-anchor="middle"><text transform="rotate(.3 210.64 155.72)" x="210.64" y="155.72" class="k">89.61</text><text transform="rotate(.3 226.62 155.72)" x="226.62" y="155.72" class="w">62.31</text><text transform="rotate(.3 242.60 155.72)" x="242.60" y="155.72" class="k">83.72</text><text transform="rotate(.3 258.58 155.72)" x="258.58" y="155.72" class="w">56.71</text><text transform="rotate(.3 274.56 155.72)" x="274.56" y="155.72" class="w">0.00</text><text transform="rotate(.3 290.54 155.72)" x="290.54" y="155.72" class="w">0.00</text><text transform="rotate(.3 306.52 155.72)" x="306.52" y="155.72" class="w">61.05</text><text transform="rotate(.3 322.50 155.72)" x="322.50" y="155.72" class="k">2.37</text><text transform="rotate(.3 338.48 155.72)" x="338.48" y="155.72" class="w">50.49</text><text transform="rotate(.3 354.46 155.72)" x="354.46" y="155.72" class="w">75.84</text><text transform="rotate(.3 210.64 168.62)" x="210.64" y="168.62" class="k">89.91</text><text transform="rotate(.3 226.62 168.62)" x="226.62" y="168.62" class="k">82.79</text><text transform="rotate(.3 242.60 168.62)" x="242.60" y="168.62" class="k">88.31</text><text transform="rotate(.3 258.58 168.62)" x="258.58" y="168.62" class="w">75.55</text><text transform="rotate(.3 274.56 168.62)" x="274.56" y="168.62" class="w">9.40</text><text transform="rotate(.3 290.54 168.62)" x="290.54" y="168.62" class="w">22.95</text><text transform="rotate(.3 306.52 168.62)" x="306.52" y="168.62" class="k">88.65</text><text transform="rotate(.3 322.50 168.62)" x="322.50" y="168.62" class="w">6.68</text><text transform="rotate(.3 338.48 168.62)" x="338.48" y="168.62" class="w">65.16</text><text transform="rotate(.3 354.46 168.62)" x="354.46" y="168.62" class="k">82.47</text><text transform="rotate(.3 210.64 181.52)" x="210.64" y="181.52" class="k">89.61</text><text transform="rotate(.3 226.62 181.52)" x="226.62" y="181.52" class="w">62.31</text><text transform="rotate(.3 242.60 181.52)" x="242.60" y="181.52" class="k">83.72</text><text transform="rotate(.3 258.58 181.52)" x="258.58" y="181.52" class="w">56.71</text><text transform="rotate(.3 274.56 181.52)" x="274.56" y="181.52" class="w">0.00</text><text transform="rotate(.3 290.54 181.52)" x="290.54" y="181.52" class="w">0.00</text><text transform="rotate(.3 306.52 181.52)" x="306.52" y="181.52" class="w">61.05</text><text transform="rotate(.3 322.50 181.52)" x="322.50" y="181.52" class="k">2.37</text><text transform="rotate(.3 338.48 181.52)" x="338.48" y="181.52" class="w">50.49</text><text transform="rotate(.3 354.46 181.52)" x="354.46" y="181.52" class="w">75.84</text><text transform="rotate(.3 210.64 194.42)" x="210.64" y="194.42" class="w">77.20</text><text transform="rotate(.3 226.62 194.42)" x="226.62" y="194.42" class="w">64.84</text><text transform="rotate(.3 242.60 194.42)" x="242.60" y="194.42" class="w">73.90</text><text transform="rotate(.3 258.58 194.42)" x="258.58" y="194.42" class="k">82.84</text><text transform="rotate(.3 274.56 194.42)" x="274.56" y="194.42" class="w">73.69</text><text transform="rotate(.3 290.54 194.42)" x="290.54" y="194.42" class="w">56.53</text><text transform="rotate(.3 306.52 194.42)" x="306.52" y="194.42" class="k">97.64</text><text transform="rotate(.3 322.50 194.42)" x="322.50" y="194.42" class="w">8.16</text><text transform="rotate(.3 338.48 194.42)" x="338.48" y="194.42" class="w">75.25</text><text transform="rotate(.3 354.46 194.42)" x="354.46" y="194.42" class="k">86.01</text><text transform="rotate(.3 210.64 207.32)" x="210.64" y="207.32" class="w">39.61</text><text transform="rotate(.3 226.62 207.32)" x="226.62" y="207.32" class="w">54.45</text><text transform="rotate(.3 242.60 207.32)" x="242.60" y="207.32" class="w">34.66</text><text transform="rotate(.3 258.58 207.32)" x="258.58" y="207.32" class="w">57.43</text><text transform="rotate(.3 274.56 207.32)" x="274.56" y="207.32" class="k">99.65</text><text transform="rotate(.3 290.54 207.32)" x="290.54" y="207.32" class="k">100.00</text><text transform="rotate(.3 306.52 207.32)" x="306.52" y="207.32" class="w">75.45</text><text transform="rotate(.3 322.50 207.32)" x="322.50" y="207.32" class="k">5.34</text><text transform="rotate(.3 338.48 207.32)" x="338.48" y="207.32" class="w">65.89</text><text transform="rotate(.3 354.46 207.32)" x="354.46" y="207.32" class="k">83.45</text><text transform="rotate(.3 210.64 220.22)" x="210.64" y="220.22" class="w">39.61</text><text transform="rotate(.3 226.62 220.22)" x="226.62" y="220.22" class="w">54.45</text><text transform="rotate(.3 242.60 220.22)" x="242.60" y="220.22" class="w">34.66</text><text transform="rotate(.3 258.58 220.22)" x="258.58" y="220.22" class="w">57.43</text><text transform="rotate(.3 274.56 220.22)" x="274.56" y="220.22" class="k">99.65</text><text transform="rotate(.3 290.54 220.22)" x="290.54" y="220.22" class="k">100.00</text><text transform="rotate(.3 306.52 220.22)" x="306.52" y="220.22" class="w">75.45</text><text transform="rotate(.3 322.50 220.22)" x="322.50" y="220.22" class="k">5.34</text><text transform="rotate(.3 338.48 220.22)" x="338.48" y="220.22" class="w">65.89</text><text transform="rotate(.3 354.46 220.22)" x="354.46" y="220.22" class="k">83.45</text><text transform="rotate(.3 210.64 233.12)" x="210.64" y="233.12" class="w">76.56</text><text transform="rotate(.3 226.62 233.12)" x="226.62" y="233.12" class="w">24.78</text><text transform="rotate(.3 242.60 233.12)" x="242.60" y="233.12" class="w">66.81</text><text transform="rotate(.3 258.58 233.12)" x="258.58" y="233.12" class="w">70.50</text><text transform="rotate(.3 274.56 233.12)" x="274.56" y="233.12" class="w">75.62</text><text transform="rotate(.3 290.54 233.12)" x="290.54" y="233.12" class="w">52.13</text><text transform="rotate(.3 306.52 233.12)" x="306.52" y="233.12" class="k">93.39</text><text transform="rotate(.3 322.50 233.12)" x="322.50" y="233.12" class="k">4.30</text><text transform="rotate(.3 338.48 233.12)" x="338.48" y="233.12" class="w">65.68</text><text transform="rotate(.3 354.46 233.12)" x="354.46" y="233.12" class="k">83.90</text><text transform="rotate(.3 210.64 246.02)" x="210.64" y="246.02" class="k">90.65</text><text transform="rotate(.3 226.62 246.02)" x="226.62" y="246.02" class="k">83.83</text><text transform="rotate(.3 242.60 246.02)" x="242.60" y="246.02" class="k">87.68</text><text transform="rotate(.3 258.58 246.02)" x="258.58" y="246.02" class="k">85.81</text><text transform="rotate(.3 274.56 246.02)" x="274.56" y="246.02" class="k">98.96</text><text transform="rotate(.3 290.54 246.02)" x="290.54" y="246.02" class="k">100.00</text><text transform="rotate(.3 306.52 246.02)" x="306.52" y="246.02" class="k">94.78</text><text transform="rotate(.3 322.50 246.02)" x="322.50" y="246.02" class="w">7.27</text><text transform="rotate(.3 338.48 246.02)" x="338.48" y="246.02" class="k">91.67</text><text transform="rotate(.3 354.46 246.02)" x="354.46" y="246.02" class="k">92.40</text></g>
<path d="M210.64 251.30v0.9M226.62 251.30v0.9M242.60 251.30v0.9M258.58 251.30v0.9M274.56 251.30v0.9M290.54 251.30v0.9M306.52 251.30v0.9M322.50 251.30v0.9M338.48 251.30v0.9M354.46 251.30v0.9M202.65 154.55h-0.9M202.65 167.45h-0.9M202.65 180.35h-0.9M202.65 193.25h-0.9M202.65 206.15h-0.9M202.65 219.05h-0.9M202.65 231.95h-0.9M202.65 244.85h-0.9" stroke="#262626" stroke-width="0.35" fill="none"/>
<g class="tk k" font-size="3.02" style="stroke-width:.05px"><text transform="rotate(.3 210.64 255.90)" x="210.64" y="255.90" text-anchor="middle">CW</text><text transform="rotate(.3 226.62 255.90)" x="226.62" y="255.90" text-anchor="middle">JSMA</text><text transform="rotate(.3 242.60 255.90)" x="242.60" y="255.90" text-anchor="middle">DeepFool</text><text transform="rotate(.3 258.58 255.90)" x="258.58" y="255.90" text-anchor="middle">FGSM</text><text transform="rotate(.3 274.56 255.90)" x="274.56" y="255.90" text-anchor="middle">BIM</text><text transform="rotate(.3 290.54 255.90)" x="290.54" y="255.90" text-anchor="middle">PGD</text><text transform="rotate(.3 306.52 255.90)" x="306.52" y="255.90" text-anchor="middle">Universal</text><text transform="rotate(.3 322.50 255.90)" x="322.50" y="255.90" text-anchor="middle">FP rate</text><text transform="rotate(.3 338.48 255.90)" x="338.48" y="255.90" text-anchor="middle">SAE</text><text transform="rotate(.3 338.48 259.97)" x="338.48" y="259.97" text-anchor="middle">rate</text><text transform="rotate(.3 354.46 255.90)" x="354.46" y="255.90" text-anchor="middle">Harmonic</text><text transform="rotate(.3 354.46 259.97)" x="354.46" y="259.97" text-anchor="middle">rate</text><text transform="rotate(.3 200.75 156.14)" x="200.75" y="156.14" text-anchor="end">CW</text><text transform="rotate(.3 200.75 169.04)" x="200.75" y="169.04" text-anchor="end">JSMA</text><text transform="rotate(.3 200.75 181.94)" x="200.75" y="181.94" text-anchor="end">DeepFool</text><text transform="rotate(.3 200.75 194.84)" x="200.75" y="194.84" text-anchor="end">FGSM</text><text transform="rotate(.3 200.75 207.74)" x="200.75" y="207.74" text-anchor="end">BIM</text><text transform="rotate(.3 200.75 220.64)" x="200.75" y="220.64" text-anchor="end">PGD</text><text transform="rotate(.3 200.75 233.54)" x="200.75" y="233.54" text-anchor="end">Universal</text><text transform="rotate(.3 200.75 244.50)" x="200.75" y="244.50" text-anchor="end">All</text><text transform="rotate(.3 200.75 248.37)" x="200.75" y="248.37" text-anchor="end">attacks</text></g>
</g>
<text class="cap" x="274.2" y="284.4" text-anchor="middle" textLength="64.4" lengthAdjust="spacingAndGlyphs">(<tspan font-weight="bold">e</tspan>) <tspan>MagNet</tspan></text>
<g class="hm" id="pf" filter="url(#bl)">
<rect x="385.60" y="148.10" width="16.03" height="12.95" fill="#f6a178"/>
<rect x="401.58" y="148.10" width="16.03" height="12.95" fill="#33183c"/>
<rect x="417.56" y="148.10" width="16.03" height="12.95" fill="#f6b089"/>
<rect x="433.54" y="148.10" width="16.03" height="12.95" fill="#faebdd"/>
<rect x="449.52" y="148.10" width="16.03" height="12.95" fill="#f7cfb3"/>
<rect x="465.50" y="148.10" width="16.03" height="12.95" fill="#f8d9c3"/>
<rect x="481.48" y="148.10" width="16.03" height="12.95" fill="#f7ccaf"/>
<rect x="497.46" y="148.10" width="16.03" height="12.95" fill="#f6b38d"/>
<rect x="513.44" y="148.10" width="16.03" height="12.95" fill="#f69c73"/>
<rect x="529.42" y="148.10" width="16.03" height="12.95" fill="#f7c4a4"/>
<rect x="385.60" y="161.00" width="16.03" height="12.95" fill="#481c48"/>
<rect x="401.58" y="161.00" width="16.03" height="12.95" fill="#9e1a5b"/>
<rect x="417.56" y="161.00" width="16.03" height="12.95" fill="#641f54"/>
<rect x="433.54" y="161.00" width="16.03" height="12.95" fill="#fae8d8"/>
<rect x="449.52" y="161.00" width="16.03" height="12.95" fill="#faebdd"/>
<rect x="465.50" y="161.00" width="16.03" height="12.95" fill="#faebdd"/>
<rect x="481.48" y="161.00" width="16.03" height="12.95" fill="#f8dcc7"/>
<rect x="497.46" y="161.00" width="16.03" height="12.95" fill="#f4845d"/>
<rect x="513.44" y="161.00" width="16.03" height="12.95" fill="#f26948"/>
<rect x="529.42" y="161.00" width="16.03" height="12.95" fill="#f6ae87"/>
<rect x="385.60" y="173.90" width="16.03" height="12.95" fill="#f6a178"/>
<rect x="401.58" y="173.90" width="16.03" height="12.95" fill="#33183c"/>
<rect x="417.56" y="173.90" width="16.03" height="12.95" fill="#f6b089"/>
<rect x="433.54" y="173.90" width="16.03" height="12.95" fill="#faebdd"/>
<rect x="449.52" y="173.90" width="16.03" height="12.95" fill="#f7cfb3"/>
<rect x="465.50" y="173.90" width="16.03" height="12.95" fill="#f8d9c3"/>
<rect x="481.48" y="173.90" width="16.03" height="12.95" fill="#f7ccaf"/>
<rect x="497.46" y="173.90" width="16.03" height="12.95" fill="#f6b38d"/>
<rect x="513.44" y="173.90" width="16.03" height="12.95" fill="#f69c73"/>
<rect x="529.42" y="173.90" width="16.03" height="12.95" fill="#f7c4a4"/>
<rect x="385.60" y="186.80" width="16.03" height="12.95" fill="#160e27"/>
<rect x="401.58" y="186.80" width="16.03" height="12.95" fill="#3d1a42"/>
<rect x="417.56" y="186.80" width="16.03" height="12.95" fill="#1b112b"/>
<rect x="433.54" y="186.80" width="16.03" height="12.95" fill="#faebdd"/>
<rect x="449.52" y="186.80" width="16.03" height="12.95" fill="#f9e2d0"/>
<rect x="465.50" y="186.80" width="16.03" height="12.95" fill="#fae9da"/>
<rect x="481.48" y="186.80" width="16.03" height="12.95" fill="#f7d0b5"/>
<rect x="497.46" y="186.80" width="16.03" height="12.95" fill="#f6b995"/>
<rect x="513.44" y="186.80" width="16.03" height="12.95" fill="#e73d3f"/>
<rect x="529.42" y="186.80" width="16.03" height="12.95" fill="#f6a077"/>
<rect x="385.60" y="199.70" width="16.03" height="12.95" fill="#4b1d4a"/>
<rect x="401.58" y="199.70" width="16.03" height="12.95" fill="#8e1d5b"/>
<rect x="417.56" y="199.70" width="16.03" height="12.95" fill="#5e1f52"/>
<rect x="433.54" y="199.70" width="16.03" height="12.95" fill="#faebdd"/>
<rect x="449.52" y="199.70" width="16.03" height="12.95" fill="#faebdd"/>
<rect x="465.50" y="199.70" width="16.03" height="12.95" fill="#faebdd"/>
<rect x="481.48" y="199.70" width="16.03" height="12.95" fill="#f9e2d0"/>
<rect x="497.46" y="199.70" width="16.03" height="12.95" fill="#f6be9b"/>
<rect x="513.44" y="199.70" width="16.03" height="12.95" fill="#f26747"/>
<rect x="529.42" y="199.70" width="16.03" height="12.95" fill="#f6b18b"/>
<rect x="385.60" y="212.60" width="16.03" height="12.95" fill="#4b1d4a"/>
<rect x="401.58" y="212.60" width="16.03" height="12.95" fill="#8e1d5b"/>
<rect x="417.56" y="212.60" width="16.03" height="12.95" fill="#5e1f52"/>
<rect x="433.54" y="212.60" width="16.03" height="12.95" fill="#faebdd"/>
<rect x="449.52" y="212.60" width="16.03" height="12.95" fill="#faebdd"/>
<rect x="465.50" y="212.60" width="16.03" height="12.95" fill="#faebdd"/>
<rect x="481.48" y="212.60" width="16.03" height="12.95" fill="#f9e2d0"/>
<rect x="497.46" y="212.60" width="16.03" height="12.95" fill="#f6be9b"/>
<rect x="513.44" y="212.60" width="16.03" height="12.95" fill="#f26747"/>
<rect x="529.42" y="212.60" width="16.03" height="12.95" fill="#f6b18b"/>
<rect x="385.60" y="225.50" width="16.03" height="12.95" fill="#3f1b43"/>
<rect x="401.58" y="225.50" width="16.03" height="12.95" fill="#731f58"/>
<rect x="417.56" y="225.50" width="16.03" height="12.95" fill="#5c1e51"/>
<rect x="433.54" y="225.50" width="16.03" height="12.95" fill="#faebdd"/>
<rect x="449.52" y="225.50" width="16.03" height="12.95" fill="#fae9da"/>
<rect x="465.50" y="225.50" width="16.03" height="12.95" fill="#faebdd"/>
<rect x="481.48" y="225.50" width="16.03" height="12.95" fill="#fae9da"/>
<rect x="497.46" y="225.50" width="16.03" height="12.95" fill="#f6be9b"/>
<rect x="513.44" y="225.50" width="16.03" height="12.95" fill="#f16244"/>
<rect x="529.42" y="225.50" width="16.03" height="12.95" fill="#f6ae87"/>
<rect x="385.60" y="238.40" width="16.03" height="12.95" fill="#f6a178"/>
<rect x="401.58" y="238.40" width="16.03" height="12.95" fill="#33183c"/>
<rect x="417.56" y="238.40" width="16.03" height="12.95" fill="#f6b089"/>
<rect x="433.54" y="238.40" width="16.03" height="12.95" fill="#faebdd"/>
<rect x="449.52" y="238.40" width="16.03" height="12.95" fill="#f7cfb3"/>
<rect x="465.50" y="238.40" width="16.03" height="12.95" fill="#f8d9c3"/>
<rect x="481.48" y="238.40" width="16.03" height="12.95" fill="#f7ccaf"/>
<rect x="497.46" y="238.40" width="16.03" height="12.95" fill="#f6b38d"/>
<rect x="513.44" y="238.40" width="16.03" height="12.95" fill="#f69c73"/>
<rect x="529.42" y="238.40" width="16.03" height="12.95" fill="#f7c4a4"/>
<path d="M385.60 148.10V251.30M401.58 148.10V251.30M417.56 148.10V251.30M433.54 148.10V251.30M449.52 148.10V251.30M465.50 148.10V251.30M481.48 148.10V251.30M497.46 148.10V251.30M513.44 148.10V251.30M529.42 148.10V251.30M545.40 148.10V251.30M385.60 148.10H545.40M385.60 161.00H545.40M385.60 173.90H545.40M385.60 186.80H545.40M385.60 199.70H545.40M385.60 212.60H545.40M385.60 225.50H545.40M385.60 238.40H545.40M385.60 251.30H545.40" stroke="#ffffff" stroke-opacity="0.22" stroke-width="0.4" fill="none"/>
<g class="an" font-size="3.38" text-anchor="middle"><text transform="rotate(.3 393.59 155.72)" x="393.59" y="155.72" class="k">80.86</text><text transform="rotate(.3 409.57 155.72)" x="409.57" y="155.72" class="w">13.65</text><text transform="rotate(.3 425.55 155.72)" x="425.55" y="155.72" class="k">84.76</text><text transform="rotate(.3 441.53 155.72)" x="441.53" y="155.72" class="k">100.00</text><text transform="rotate(.3 457.51 155.72)" x="457.51" y="155.72" class="k">92.48</text><text transform="rotate(.3 473.49 155.72)" x="473.49" y="155.72" class="k">95.30</text><text transform="rotate(.3 489.47 155.72)" x="489.47" y="155.72" class="k">91.77</text><text transform="rotate(.3 505.45 155.72)" x="505.45" y="155.72" class="k">4.90</text><text transform="rotate(.3 521.43 155.72)" x="521.43" y="155.72" class="k">79.83</text><text transform="rotate(.3 537.41 155.72)" x="537.41" y="155.72" class="k">89.82</text><text transform="rotate(.3 393.59 168.62)" x="393.59" y="168.62" class="w">18.99</text><text transform="rotate(.3 409.57 168.62)" x="409.57" y="168.62" class="w">39.17</text><text transform="rotate(.3 425.55 168.62)" x="425.55" y="168.62" class="w">25.89</text><text transform="rotate(.3 441.53 168.62)" x="441.53" y="168.62" class="k">99.07</text><text transform="rotate(.3 457.51 168.62)" x="457.51" y="168.62" class="k">100.00</text><text transform="rotate(.3 473.49 168.62)" x="473.49" y="168.62" class="k">100.00</text><text transform="rotate(.3 489.47 168.62)" x="489.47" y="168.62" class="k">95.86</text><text transform="rotate(.3 505.45 168.62)" x="505.45" y="168.62" class="w">6.08</text><text transform="rotate(.3 521.43 168.62)" x="521.43" y="168.62" class="w">68.43</text><text transform="rotate(.3 537.41 168.62)" x="537.41" y="168.62" class="k">84.26</text><text transform="rotate(.3 393.59 181.52)" x="393.59" y="181.52" class="k">80.86</text><text transform="rotate(.3 409.57 181.52)" x="409.57" y="181.52" class="w">13.65</text><text transform="rotate(.3 425.55 181.52)" x="425.55" y="181.52" class="k">84.76</text><text transform="rotate(.3 441.53 181.52)" x="441.53" y="181.52" class="k">100.00</text><text transform="rotate(.3 457.51 181.52)" x="457.51" y="181.52" class="k">92.48</text><text transform="rotate(.3 473.49 181.52)" x="473.49" y="181.52" class="k">95.30</text><text transform="rotate(.3 489.47 181.52)" x="489.47" y="181.52" class="k">91.77</text><text transform="rotate(.3 505.45 181.52)" x="505.45" y="181.52" class="k">4.90</text><text transform="rotate(.3 521.43 181.52)" x="521.43" y="181.52" class="k">79.83</text><text transform="rotate(.3 537.41 181.52)" x="537.41" y="181.52" class="k">89.82</text><text transform="rotate(.3 393.59 194.42)" x="393.59" y="194.42" class="w">5.64</text><text transform="rotate(.3 409.57 194.42)" x="409.57" y="194.42" class="w">16.02</text><text transform="rotate(.3 425.55 194.42)" x="425.55" y="194.42" class="w">7.10</text><text transform="rotate(.3 441.53 194.42)" x="441.53" y="194.42" class="k">99.62</text><text transform="rotate(.3 457.51 194.42)" x="457.51" y="194.42" class="k">97.43</text><text transform="rotate(.3 473.49 194.42)" x="473.49" y="194.42" class="k">99.26</text><text transform="rotate(.3 489.47 194.42)" x="489.47" y="194.42" class="k">92.94</text><text transform="rotate(.3 505.45 194.42)" x="505.45" y="194.42" class="k">4.75</text><text transform="rotate(.3 521.43 194.42)" x="521.43" y="194.42" class="w">59.71</text><text transform="rotate(.3 537.41 194.42)" x="537.41" y="194.42" class="k">80.51</text><text transform="rotate(.3 393.59 207.32)" x="393.59" y="207.32" class="w">19.58</text><text transform="rotate(.3 409.57 207.32)" x="409.57" y="207.32" class="w">35.76</text><text transform="rotate(.3 425.55 207.32)" x="425.55" y="207.32" class="w">24.22</text><text transform="rotate(.3 441.53 207.32)" x="441.53" y="207.32" class="k">99.89</text><text transform="rotate(.3 457.51 207.32)" x="457.51" y="207.32" class="k">100.00</text><text transform="rotate(.3 473.49 207.32)" x="473.49" y="207.32" class="k">100.00</text><text transform="rotate(.3 489.47 207.32)" x="489.47" y="207.32" class="k">97.58</text><text transform="rotate(.3 505.45 207.32)" x="505.45" y="207.32" class="k">4.60</text><text transform="rotate(.3 521.43 207.32)" x="521.43" y="207.32" class="w">68.15</text><text transform="rotate(.3 537.41 207.32)" x="537.41" y="207.32" class="k">84.95</text><text transform="rotate(.3 393.59 220.22)" x="393.59" y="220.22" class="w">19.58</text><text transform="rotate(.3 409.57 220.22)" x="409.57" y="220.22" class="w">35.76</text><text transform="rotate(.3 425.55 220.22)" x="425.55" y="220.22" class="w">24.22</text><text transform="rotate(.3 441.53 220.22)" x="441.53" y="220.22" class="k">99.89</text><text transform="rotate(.3 457.51 220.22)" x="457.51" y="220.22" class="k">100.00</text><text transform="rotate(.3 473.49 220.22)" x="473.49" y="220.22" class="k">100.00</text><text transform="rotate(.3 489.47 220.22)" x="489.47" y="220.22" class="k">97.58</text><text transform="rotate(.3 505.45 220.22)" x="505.45" y="220.22" class="k">4.60</text><text transform="rotate(.3 521.43 220.22)" x="521.43" y="220.22" class="w">68.15</text><text transform="rotate(.3 537.41 220.22)" x="537.41" y="220.22" class="k">84.95</text><text transform="rotate(.3 393.59 233.12)" x="393.59" y="233.12" class="w">16.47</text><text transform="rotate(.3 409.57 233.12)" x="409.57" y="233.12" class="w">29.53</text><text transform="rotate(.3 425.55 233.12)" x="425.55" y="233.12" class="w">24.01</text><text transform="rotate(.3 441.53 233.12)" x="441.53" y="233.12" class="k">99.94</text><text transform="rotate(.3 457.51 233.12)" x="457.51" y="233.12" class="k">99.26</text><text transform="rotate(.3 473.49 233.12)" x="473.49" y="233.12" class="k">99.75</text><text transform="rotate(.3 489.47 233.12)" x="489.47" y="233.12" class="k">99.59</text><text transform="rotate(.3 505.45 233.12)" x="505.45" y="233.12" class="k">4.60</text><text transform="rotate(.3 521.43 233.12)" x="521.43" y="233.12" class="w">66.94</text><text transform="rotate(.3 537.41 233.12)" x="537.41" y="233.12" class="k">84.06</text><text transform="rotate(.3 393.59 246.02)" x="393.59" y="246.02" class="k">80.86</text><text transform="rotate(.3 409.57 246.02)" x="409.57" y="246.02" class="w">13.65</text><text transform="rotate(.3 425.55 246.02)" x="425.55" y="246.02" class="k">84.76</text><text transform="rotate(.3 441.53 246.02)" x="441.53" y="246.02" class="k">100.00</text><text transform="rotate(.3 457.51 246.02)" x="457.51" y="246.02" class="k">92.48</text><text transform="rotate(.3 473.49 246.02)" x="473.49" y="246.02" class="k">95.30</text><text transform="rotate(.3 489.47 246.02)" x="489.47" y="246.02" class="k">91.77</text><text transform="rotate(.3 505.45 246.02)" x="505.45" y="246.02" class="k">4.90</text><text transform="rotate(.3 521.43 246.02)" x="521.43" y="246.02" class="k">79.83</text><text transform="rotate(.3 537.41 246.02)" x="537.41" y="246.02" class="k">89.82</text></g>
<path d="M393.59 251.30v0.9M409.57 251.30v0.9M425.55 251.30v0.9M441.53 251.30v0.9M457.51 251.30v0.9M473.49 251.30v0.9M489.47 251.30v0.9M505.45 251.30v0.9M521.43 251.30v0.9M537.41 251.30v0.9M385.60 154.55h-0.9M385.60 167.45h-0.9M385.60 180.35h-0.9M385.60 193.25h-0.9M385.60 206.15h-0.9M385.60 219.05h-0.9M385.60 231.95h-0.9M385.60 244.85h-0.9" stroke="#262626" stroke-width="0.35" fill="none"/>
<g class="tk k" font-size="3.02" style="stroke-width:.05px"><text transform="rotate(.3 393.59 255.90)" x="393.59" y="255.90" text-anchor="middle">CW</text><text transform="rotate(.3 409.57 255.90)" x="409.57" y="255.90" text-anchor="middle">JSMA</text><text transform="rotate(.3 425.55 255.90)" x="425.55" y="255.90" text-anchor="middle">DeepFool</text><text transform="rotate(.3 441.53 255.90)" x="441.53" y="255.90" text-anchor="middle">FGSM</text><text transform="rotate(.3 457.51 255.90)" x="457.51" y="255.90" text-anchor="middle">BIM</text><text transform="rotate(.3 473.49 255.90)" x="473.49" y="255.90" text-anchor="middle">PGD</text><text transform="rotate(.3 489.47 255.90)" x="489.47" y="255.90" text-anchor="middle">Universal</text><text transform="rotate(.3 505.45 255.90)" x="505.45" y="255.90" text-anchor="middle">FP rate</text><text transform="rotate(.3 521.43 255.90)" x="521.43" y="255.90" text-anchor="middle">SAE</text><text transform="rotate(.3 521.43 259.97)" x="521.43" y="259.97" text-anchor="middle">rate</text><text transform="rotate(.3 537.41 255.90)" x="537.41" y="255.90" text-anchor="middle">Harmonic</text><text transform="rotate(.3 537.41 259.97)" x="537.41" y="259.97" text-anchor="middle">rate</text><text transform="rotate(.3 383.70 156.14)" x="383.70" y="156.14" text-anchor="end">CW</text><text transform="rotate(.3 383.70 169.04)" x="383.70" y="169.04" text-anchor="end">JSMA</text><text transform="rotate(.3 383.70 181.94)" x="383.70" y="181.94" text-anchor="end">DeepFool</text><text transform="rotate(.3 383.70 194.84)" x="383.70" y="194.84" text-anchor="end">FGSM</text><text transform="rotate(.3 383.70 207.74)" x="383.70" y="207.74" text-anchor="end">BIM</text><text transform="rotate(.3 383.70 220.64)" x="383.70" y="220.64" text-anchor="end">PGD</text><text transform="rotate(.3 383.70 233.54)" x="383.70" y="233.54" text-anchor="end">Universal</text><text transform="rotate(.3 383.70 244.50)" x="383.70" y="244.50" text-anchor="end">All</text><text transform="rotate(.3 383.70 248.37)" x="383.70" y="248.37" text-anchor="end">attacks</text></g>
</g>
<text class="cap" x="457.2" y="284.4" text-anchor="middle" textLength="83.2" lengthAdjust="spacingAndGlyphs">(<tspan font-weight="bold">f</tspan>) <tspan>Subset Scan</tspan></text>
</svg>
</body></html>
